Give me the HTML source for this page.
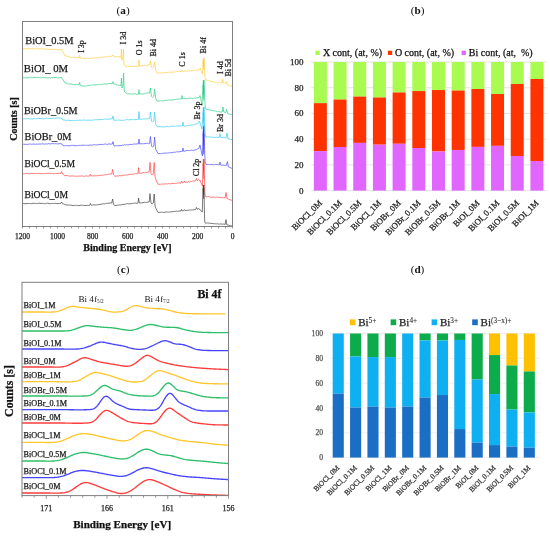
<!DOCTYPE html>
<html lang="en"><head><meta charset="utf-8"><title>XPS figure</title>
<style>html,body{margin:0;padding:0;background:#fff}svg{display:block}text{font-family:"Liberation Serif", "DejaVu Serif", serif}</style>
</head><body>
<svg width="550" height="536" viewBox="0 0 550 536">
<rect x="0" y="0" width="550" height="536" fill="#fff"/>
<text x="123.1" y="14" font-size="11.2" text-anchor="middle" fill="#111">(<tspan font-weight="bold">a</tspan>)</text>
<text x="417.7" y="14" font-size="11.2" text-anchor="middle" fill="#111">(<tspan font-weight="bold">b</tspan>)</text>
<text x="123.3" y="272.5" font-size="11.2" text-anchor="middle" fill="#111">(<tspan font-weight="bold">c</tspan>)</text>
<text x="417.5" y="272.5" font-size="11.2" text-anchor="middle" fill="#111">(<tspan font-weight="bold">d</tspan>)</text>
<g id="panel-a">
<path d="M22.5 203.6 L23.67 203.38 L24.83 203.77 L26 203.71 L27.17 203.41 L28.33 203.53 L29.5 203.49 L30.67 203.59 L31.83 203.66 L33 203.25 L34.17 203.2 L35.33 203.64 L36.5 203.4 L37.67 203.57 L38.83 203.13 L40 203.4 L41.12 203.38 L42.25 203.55 L43.38 203.29 L44.5 203.7 L45.62 203.69 L46.75 203.21 L47.88 203.22 L49 203.52 L50.12 203.76 L51.25 203.46 L52.38 203.38 L53.5 203.51 L54.62 203.3 L55.75 203.42 L56.88 203.55 L58 203.6 L59.4 203.5 L60.8 203.4 L61.6 202 L62.6 203.8 L63.73 204.05 L64.87 204.45 L66 205 L67.2 204.92 L68.4 205.14 L69.6 205.12 L70.8 205.05 L72 205.4 L73.14 205.59 L74.29 205.43 L75.43 205.48 L76.57 205.22 L77.71 205.68 L78.86 205.6 L80 205.4 L81.21 205.18 L82.42 205.28 L83.64 205.49 L84.85 205.47 L86.06 205.58 L87.28 205.28 L88.49 205.5 L89.7 205.3 L90.4 203.4 L91.2 205.2 L92.46 205.18 L93.71 204.86 L94.97 204.91 L96.23 204.96 L97.49 204.82 L98.74 204.52 L100 204.4 L101.11 204.29 L102.22 203.83 L103.33 203.79 L104.44 203.94 L105.56 203.57 L106.67 203.28 L107.78 203.34 L108.89 203.27 L110 203 L111.8 203 L112.6 199 L113.6 204.6 L115 205.6 L116.17 205.53 L117.33 205.2 L118.5 205.07 L119.67 204.94 L120.83 204.92 L122 204.6 L123.14 204.47 L124.29 204.25 L125.43 204.17 L126.57 203.77 L127.71 203.63 L128.86 203.86 L130 203.6 L131.14 203.78 L132.29 203.48 L133.43 203.28 L134.57 203.07 L135.71 203.17 L136.86 203.36 L138 203 L138.6 198 L139.3 203 L140.54 203.01 L141.79 202.74 L143.03 202.77 L144.27 202.28 L145.51 202.29 L146.76 202.4 L148 202 L149.2 202 L150 193.6 L151 203 L152 204 L153.3 203 L154.2 194 L155.2 207 L158 212.4 L159.17 212.41 L160.33 212.31 L161.5 212.17 L162.67 212.29 L163.83 212.49 L165 212.2 L166.15 211.83 L167.31 212.17 L168.46 212.1 L169.62 212.05 L170.77 211.87 L171.92 211.82 L173.08 211.56 L174.23 211.5 L175.38 211.33 L176.54 211.03 L177.69 211.39 L178.85 211.13 L180 211 L181 211 L181.6 209.4 L182.3 210.8 L183.7 210.7 L184.4 209.6 L185.1 210.6 L186.2 210.32 L187.3 210.38 L188.4 210.26 L189.5 210.08 L190.6 209.96 L191.7 209.95 L192.8 209.89 L193.9 209.77 L195 209.6 L195.7 209.5 L196.4 207.4 L197.3 209.2 L198 209.2 L198.6 208.4 L199.3 209.3 L200 209.4 L201.5 211.6 L202.3 212 L202.9 190 L203.3 185 L203.6 190 L203.9 185 L204.3 205 L204.7 221 L205.2 223.1 L206.33 223.13 L207.47 222.94 L208.6 223.1 L209.73 223.12 L210.87 223.4 L212 223.4 L213.11 223.69 L214.22 223.74 L215.33 223.83 L216.44 223.93 L217.56 223.71 L218.67 224.12 L219.78 224.12 L220.89 223.88 L222 224.2 L223.6 224.03 L225.2 224.4 L226 219.6 L226.9 225 L228.45 225.13 L230 225.8 L232 226" fill="none" stroke="#4d4d4d" stroke-width="0.75" stroke-linejoin="round" stroke-linecap="round" />
<path d="M22.5 173.6 L23.67 173.84 L24.83 173.82 L26 173.31 L27.17 173.31 L28.33 173.72 L29.5 173.65 L30.67 173.6 L31.83 173.39 L33 173.54 L34.17 173.53 L35.33 173.5 L36.5 173.25 L37.67 173.39 L38.83 173.35 L40 173.4 L41.12 173.54 L42.25 173.7 L43.38 173.69 L44.5 173.47 L45.62 173.43 L46.75 173.35 L47.88 173.23 L49 173.24 L50.12 173.49 L51.25 173.42 L52.38 173.47 L53.5 173.77 L54.62 173.58 L55.75 173.61 L56.88 173.44 L58 173.6 L59.4 173.23 L60.8 173.4 L61.6 171.6 L62.6 174 L65 175.6 L66.17 175.57 L67.33 175.53 L68.5 175.81 L69.67 176.15 L70.83 176.03 L72 176 L73.14 175.82 L74.29 176.22 L75.43 176.17 L76.57 176.13 L77.71 176.23 L78.86 176.15 L80 176 L81.21 176.16 L82.42 175.92 L83.64 176.27 L84.85 176.26 L86.06 175.81 L87.28 176.14 L88.49 176.12 L89.7 176 L90.4 174 L91.2 176 L92.46 175.89 L93.71 175.85 L94.97 175.74 L96.23 175.9 L97.49 175.57 L98.74 175.67 L100 175.4 L101.11 175.16 L102.22 175.3 L103.33 175.16 L104.44 174.76 L105.56 174.66 L106.67 174.7 L107.78 174.44 L108.89 174.15 L110 174 L111.8 174 L112.6 169.4 L113.6 175 L115 176.4 L116.17 176.08 L117.33 175.97 L118.5 176.01 L119.67 175.55 L120.83 175.8 L122 175.4 L123.14 175.13 L124.29 175.34 L125.43 174.86 L126.57 175.08 L127.71 174.8 L128.86 174.55 L130 174.4 L131.14 174.3 L132.29 174.26 L133.43 174.11 L134.57 173.84 L135.71 173.66 L136.86 173.72 L138 173.6 L138.6 167.6 L139.3 173.4 L140.54 173.44 L141.79 173.07 L143.03 172.56 L144.27 172.78 L145.51 172.53 L146.76 172.43 L148 172 L149.2 172 L150 162.4 L151 174 L152 175 L153.3 174 L154.2 162.4 L155.2 178 L158 184.4 L159.17 184.16 L160.33 184.4 L161.5 183.95 L162.67 184.22 L163.83 183.94 L165 184 L166.15 183.77 L167.31 184.06 L168.46 183.55 L169.62 183.7 L170.77 183.81 L171.92 183.4 L173.08 183.3 L174.23 183.6 L175.38 183.26 L176.54 183.35 L177.69 182.89 L178.85 183 L180 183 L181 183 L181.6 181 L182.3 182.8 L183.7 182.6 L184.4 181 L185.1 182.5 L186.2 182.15 L187.3 182.26 L188.4 181.77 L189.5 182.09 L190.6 181.4 L191.7 181.63 L192.8 181.07 L193.9 181.03 L195 181 L195.7 180.8 L196.4 178.4 L197.3 180.4 L198 180.4 L198.6 179.6 L199.3 180.4 L200 180 L201.5 184 L202.4 186 L203 164 L203.4 159 L203.7 164 L204 159 L204.5 180 L205 194 L205.5 196.6 L206.8 196.9 L208.1 196.65 L209.4 196.78 L210.7 197.19 L212 197.2 L213.14 197.18 L214.29 197.03 L215.43 197.6 L216.57 197.18 L217.71 197.15 L218.86 197.37 L220 197.5 L221.3 197.64 L222.6 197.79 L223.9 197.51 L225.2 197.8 L226 192.4 L226.9 198.4 L228.45 199.01 L230 199.8 L232 200.3" fill="none" stroke="#ff5050" stroke-width="0.75" stroke-linejoin="round" stroke-linecap="round" />
<path d="M22.5 144.4 L23.67 144.23 L24.83 144.37 L26 144.25 L27.17 144.35 L28.33 144.34 L29.5 144 L30.67 143.94 L31.83 144.38 L33 144.03 L34.17 143.98 L35.33 144.38 L36.5 144.06 L37.67 144.24 L38.83 144.01 L40 144 L41.11 144.06 L42.22 143.76 L43.33 144.01 L44.44 144.12 L45.56 143.9 L46.67 144 L47.78 143.94 L48.89 143.58 L50 143.94 L51.11 143.83 L52.22 143.64 L53.33 143.47 L54.44 143.92 L55.56 143.67 L56.67 143.79 L57.78 143.86 L58.89 143.74 L60 143.6 L62 144 L63 145.6 L64.2 145.84 L65.4 145.54 L66.6 145.77 L67.8 145.57 L69 145.84 L70.2 145.81 L71.4 145.37 L72.6 145.4 L73.8 145.44 L75 145.6 L76.15 145.81 L77.31 145.47 L78.46 145.53 L79.62 145.3 L80.77 145.37 L81.92 145.26 L83.08 145.19 L84.23 145.28 L85.38 145.23 L86.54 145.36 L87.69 145.19 L88.85 145.29 L90 145 L91.11 145.14 L92.22 145.16 L93.33 144.93 L94.44 144.59 L95.56 144.92 L96.67 144.93 L97.78 144.84 L98.89 144.59 L100 144.62 L101.11 144.28 L102.22 144.57 L103.33 144.37 L104.44 144.16 L105.56 143.98 L106.67 144.36 L107.78 144.39 L108.89 143.83 L110 144 L111.15 144.17 L112.3 144 L113 141.6 L114 146 L115.2 145.87 L116.4 145.64 L117.6 145.64 L118.8 145.83 L120 145.6 L121.11 145.68 L122.22 145.08 L123.33 145.26 L124.44 144.81 L125.56 145.06 L126.67 144.71 L127.78 144.88 L128.89 144.8 L130 144.4 L131.2 144.35 L132.4 144.56 L133.6 144.12 L134.8 143.93 L136 144.17 L137.2 143.79 L138.4 144 L139 139 L139.6 144 L140.95 143.73 L142.3 143.75 L143.65 143.76 L145 143.6 L146.15 143.36 L147.3 143.24 L148.45 143.66 L149.6 143.4 L150.4 136.4 L151.5 146 L152.5 147 L153.8 146 L154.6 137 L155.6 149 L158 153.6 L159.17 153.43 L160.33 153.72 L161.5 153.62 L162.67 153.26 L163.83 153.24 L165 153.2 L166.15 153.09 L167.31 153.03 L168.46 152.88 L169.62 152.74 L170.77 152.65 L171.92 152.71 L173.08 152.34 L174.23 152.18 L175.38 152.22 L176.54 151.82 L177.69 151.73 L178.85 151.99 L180 151.6 L181.2 151.51 L182.4 151.4 L183 148 L183.6 151.2 L184.8 151.13 L186 151 L186.6 150 L187.2 150.8 L188.3 150.43 L189.4 150.55 L190.5 150.54 L191.6 150.13 L192.7 150.36 L193.8 150.27 L194.9 149.85 L196 150 L199 148 L200 145 L201 150 L202.4 156 L203.1 132 L203.5 126 L203.8 131 L204.1 126 L204.6 150 L205.2 162 L206 164.4 L207.2 164.51 L208.4 164.46 L209.6 164.62 L210.8 164.48 L212 164.6 L213.23 164.75 L214.47 164.8 L215.7 164.43 L216.93 164.49 L218.17 164.87 L219.4 164.8 L220 162 L220.7 165 L221.84 165.34 L222.98 165.02 L224.12 165.22 L225.26 165.37 L226.4 165.4 L227.4 161.6 L228.4 167 L229.6 167.37 L230.8 167.86 L232 168.4" fill="none" stroke="#5555ff" stroke-width="0.75" stroke-linejoin="round" stroke-linecap="round" />
<path d="M22.5 119 L23.67 118.83 L24.83 118.72 L26 118.86 L27.17 118.7 L28.33 118.62 L29.5 118.78 L30.67 119.05 L31.83 118.95 L33 118.91 L34.17 118.58 L35.33 118.73 L36.5 118.55 L37.67 118.47 L38.83 118.41 L40 118.6 L41.11 118.41 L42.22 118.77 L43.33 118.68 L44.44 118.64 L45.56 118.6 L46.67 118.23 L47.78 118.26 L48.89 118.4 L50 118.43 L51.11 118.47 L52.22 118.45 L53.33 117.97 L54.44 118.23 L55.56 118.23 L56.67 118.1 L57.78 117.89 L58.89 118.02 L60 118 L62 118.3 L63 120 L64.17 119.84 L65.33 120.38 L66.5 120.4 L67.67 120.29 L68.83 120.22 L70 120.4 L71.11 120.62 L72.22 120.42 L73.33 120.58 L74.44 120.55 L75.56 120.35 L76.67 120.29 L77.78 120.38 L78.89 120.27 L80 120.11 L81.11 120.18 L82.22 120.45 L83.33 120.01 L84.44 120 L85.56 120.32 L86.67 120.11 L87.78 120.24 L88.89 120.2 L90 120.2 L91.11 120.05 L92.22 120.35 L93.33 119.83 L94.44 119.88 L95.56 119.7 L96.67 119.87 L97.78 119.61 L98.89 119.59 L100 119.74 L101.11 119.43 L102.22 119.5 L103.33 119.63 L104.44 119.11 L105.56 119.02 L106.67 119.05 L107.78 119.28 L108.89 119.13 L110 119 L111.15 118.85 L112.3 119 L113 116 L114 120.4 L115.2 120.27 L116.4 120.14 L117.6 120.26 L118.8 119.98 L120 120.2 L121.11 120.24 L122.22 120.29 L123.33 120.25 L124.44 120.06 L125.56 120.12 L126.67 119.53 L127.78 119.62 L128.89 119.93 L130 119.6 L131.2 119.73 L132.4 119.49 L133.6 119.76 L134.8 119.55 L136 119.64 L137.2 119.31 L138.4 119.4 L139 111.6 L139.6 119.4 L140.95 119.13 L142.3 119.17 L143.65 118.9 L145 119 L146.15 118.83 L147.3 119.06 L148.45 118.61 L149.6 118.6 L150.4 112 L151.5 121 L152.5 122 L153.8 121 L154.6 112.4 L155.6 124 L157.5 127 L158.75 126.69 L160 126.68 L161.25 126.71 L162.5 127.03 L163.75 126.76 L165 126.8 L166.15 126.62 L167.31 126.45 L168.46 126.89 L169.62 126.51 L170.77 126.33 L171.92 126.18 L173.08 126.12 L174.23 126.12 L175.38 126.35 L176.54 125.99 L177.69 125.87 L178.85 126.06 L180 126 L181.2 125.86 L182.4 126 L183 122 L183.6 126 L184.8 126.28 L186 126 L186.6 125.2 L187.2 125.8 L188.42 125.36 L189.65 125.37 L190.88 125.28 L192.1 124.85 L193.32 124.95 L194.55 124.44 L195.78 124.08 L197 124 L198.5 123 L199.4 121 L200.4 124 L202 129 L203 112 L203.4 107 L203.7 112 L204 107 L204.6 125 L205.2 135 L206 137 L207.2 136.99 L208.4 136.82 L209.6 137.08 L210.8 137.02 L212 137.2 L213.2 137.46 L214.4 137.47 L215.6 137.32 L216.8 137.1 L218 137.4 L219.4 137.4 L220 133.6 L220.7 137.5 L222.02 137.49 L223.35 137.61 L224.68 137.71 L226 138 L227 133 L228 139 L229.33 139.05 L230.67 139.61 L232 139.6" fill="none" stroke="#40d0f5" stroke-width="0.75" stroke-linejoin="round" stroke-linecap="round" />
<path d="M22.5 77.6 L23.64 77.67 L24.77 77.73 L25.91 77.75 L27.05 77.84 L28.18 77.68 L29.32 77.79 L30.45 77.14 L31.59 77.43 L32.73 77.75 L33.86 77.52 L35 77.4 L36.11 77.73 L37.22 77.22 L38.33 77.51 L39.44 77.4 L40.56 77.65 L41.67 77.72 L42.78 77.37 L43.89 77.56 L45 77.8 L46.11 77.62 L47.22 78.05 L48.33 77.92 L49.44 77.47 L50.56 77.9 L51.67 77.41 L52.78 77.73 L53.89 77.36 L55 77.6 L56.25 77.35 L57.5 78.06 L58.75 77.7 L60 78 L61 77 L62 78.4 L65 83 L66.25 83.05 L67.5 83.84 L68.75 84.01 L70 84 L71.25 84 L72.5 84.62 L73.75 84.48 L75 84.6 L76.33 84.79 L77.67 84.53 L79 84.8 L79.6 82.4 L80.3 85.4 L81.65 86.01 L83 86 L84.2 86.03 L85.4 86.13 L86.6 85.98 L87.8 85.46 L89 85.4 L90.2 85.17 L91.4 85.05 L92.6 84.9 L93.8 84.96 L95 85 L96.11 84.96 L97.22 84.43 L98.33 84.79 L99.44 84.44 L100.56 84.31 L101.67 84.56 L102.78 84.21 L103.89 83.98 L105 84 L106.25 83.89 L107.5 83.94 L108.75 83.39 L110 83.6 L111.2 83.83 L112.4 83.4 L113 81.6 L113.8 84 L115.2 84 L116.6 84.84 L118 85 L119.5 85.49 L121 85.5 L121.4 78 L121.9 88 L123 86 L123.6 73 L124.2 91 L126 93 L128 94 L129.16 93.68 L130.31 94.25 L131.47 93.97 L132.62 94.14 L133.78 93.77 L134.93 93.82 L136.09 93.93 L137.24 94.5 L138.4 94.2 L139 89.6 L139.6 94.2 L140.8 93.82 L142 94.04 L143.2 93.99 L144.4 93.82 L145.6 93.23 L146.8 93.07 L148 93 L149.6 93 L150.4 88 L151.5 96.5 L152.6 97.2 L153.8 96 L154.6 89 L155.6 98 L157 101 L158.14 100.96 L159.29 101.08 L160.43 100.55 L161.57 100.95 L162.71 100.92 L163.86 100.91 L165 100.6 L166.15 100.15 L167.31 100.67 L168.46 99.94 L169.62 100 L170.77 100.06 L171.92 100.15 L173.08 99.63 L174.23 99.91 L175.38 99.52 L176.54 99.24 L177.69 99.12 L178.85 98.9 L180 99 L181.5 99 L182 95.6 L182.6 98.8 L183.83 98.44 L185.07 98.42 L186.3 98.73 L187.53 98.88 L188.77 98.23 L190 98.4 L191.17 98.02 L192.33 98.61 L193.5 98.22 L194.67 98.07 L195.83 97.88 L197 98 L199 97.5 L200 95.6 L201 100 L202 105 L203 84 L203.4 80 L203.7 84 L204 80 L204.6 95 L205.2 107 L206 109 L207.2 109.37 L208.4 109.83 L209.6 109.87 L210.8 110.15 L212 110.5 L213.14 110.4 L214.29 111.22 L215.43 110.82 L216.57 111.35 L217.71 111.81 L218.86 111.53 L220 112 L222.2 112 L223 107 L223.8 112 L225.8 112.5 L226.6 109.4 L227.6 113.5 L228.7 113.89 L229.8 114.26 L230.9 114.27 L232 114.4" fill="none" stroke="#38d28c" stroke-width="0.75" stroke-linejoin="round" stroke-linecap="round" />
<path d="M22.5 48.6 L23.67 48.79 L24.83 48.82 L26 48.63 L27.17 48.51 L28.33 48.37 L29.5 48.78 L30.67 48.68 L31.83 48.86 L33 48.64 L34.17 48.9 L35.33 48.61 L36.5 48.94 L37.67 48.91 L38.83 48.74 L40 48.8 L41.15 48.87 L42.31 49 L43.46 48.75 L44.62 49.02 L45.77 49.21 L46.92 48.94 L48.08 49.31 L49.23 49.28 L50.38 49.42 L51.54 49.16 L52.69 49.06 L53.85 49.53 L55 49.4 L56.25 49.73 L57.5 49.67 L58.75 49.61 L60 50 L61 49 L62 50 L65 56 L66.25 56.07 L67.5 56.58 L68.75 56.62 L70 57 L71.25 57.4 L72.5 57.3 L73.75 57.2 L75 57.5 L76.33 57.69 L77.67 57.62 L79 57.8 L79.6 55 L80.3 58 L81.47 58.36 L82.65 58.45 L83.83 58.31 L85 58.4 L86.11 58.44 L87.22 58.43 L88.33 58.45 L89.44 58.51 L90.56 57.89 L91.67 58.05 L92.78 58.15 L93.89 57.93 L95 58 L96.11 57.94 L97.22 57.53 L98.33 57.89 L99.44 57.57 L100.56 57.21 L101.67 57.43 L102.78 57.11 L103.89 56.93 L105 57 L106.17 56.82 L107.33 56.45 L108.5 56.33 L109.67 56.55 L110.83 56.29 L112 56 L113 55 L114 56.5 L115.2 56.31 L116.4 56.87 L117.6 56.51 L118.8 56.8 L120 57 L121 57.5 L121.4 49 L121.9 60 L122.9 58 L123.4 49 L124 64 L125 66 L126.25 66.39 L127.5 66.37 L128.75 66.33 L130 66.6 L131.21 66.48 L132.43 66.45 L133.64 66.25 L134.86 66.73 L136.07 66.12 L137.29 66.3 L138.5 66.3 L139 60 L139.6 66 L140.8 66 L142 65.65 L143.2 65.86 L144.4 65.28 L145.6 65.57 L146.8 65.38 L148 65 L149.6 65 L150.4 60.8 L151.5 67.4 L152.6 68 L153.8 67 L154.6 62 L155.6 70 L157 73 L158.14 73.04 L159.29 73.12 L160.43 72.8 L161.57 72.97 L162.71 72.89 L163.86 72.67 L165 72.6 L166.15 72.51 L167.31 72.57 L168.46 72.31 L169.62 72.04 L170.77 72.36 L171.92 72 L173.08 72.05 L174.23 72.16 L175.38 71.71 L176.54 71.54 L177.69 71.53 L178.85 71.73 L180 71.6 L181.5 71.5 L182 70 L182.6 71.4 L183.83 71.22 L185.07 71.05 L186.3 71.07 L187.53 71.26 L188.77 70.75 L190 70.8 L191.12 70.65 L192.25 70.83 L193.38 70.57 L194.5 70.26 L195.62 70.28 L196.75 70.19 L197.88 69.89 L199 70 L200.4 68 L201.5 72 L202.4 74 L203.1 60 L203.4 58 L203.7 60 L204 58 L204.4 66 L205 78 L206 80 L207.2 80.23 L208.4 80.48 L209.6 81.08 L210.8 81.09 L212 81.5 L213.14 81.81 L214.29 82.21 L215.43 82.4 L216.57 82.28 L217.71 82.63 L218.86 82.68 L220 83 L222 83 L222.6 79 L223.4 83 L224.6 83.19 L225.8 83.5 L226.6 81.6 L227.6 85 L228.7 85.24 L229.8 85.68 L230.9 86.01 L232 86" fill="none" stroke="#ffd04a" stroke-width="0.75" stroke-linejoin="round" stroke-linecap="round" />
<path d="M203.45 184.7 L204.3 189.25 L204.15 199 L203.45 199 L202.8 189.25 Z" fill="#3a3a3a"/>
<path d="M203.45 158.7 L204.3 165.05 L204.15 179 L203.45 179 L202.8 165.05 Z" fill="#ff3636"/>
<path d="M203.45 125.7 L204.3 134.6 L204.15 154.5 L203.45 154.5 L202.8 134.6 Z" fill="#3030ff"/>
<path d="M203.45 106.7 L204.3 112.9 L204.15 126.5 L203.45 126.5 L202.8 112.9 Z" fill="#28c8fa"/>
<path d="M203.45 80.2 L204.3 86.55 L204.15 100.5 L203.45 100.5 L202.8 86.55 Z" fill="#22c87c"/>
<path d="M203.45 58.2 L204.3 61.85 L204.15 69.5 L203.45 69.5 L202.8 61.85 Z" fill="#ffc824"/>
<rect x="22.5" y="21.5" width="210.0" height="205.0" fill="none" stroke="#7f7f7f" stroke-width="1"/>
<path d="M232.5 226.5 v1.9 M225.5 226.5 v1.9 M218.5 226.5 v1.9 M211.5 226.5 v1.9 M204.5 226.5 v1.9 M197.5 226.5 v1.9 M190.5 226.5 v1.9 M183.5 226.5 v1.9 M176.5 226.5 v1.9 M169.5 226.5 v1.9 M162.5 226.5 v1.9 M155.5 226.5 v1.9 M148.5 226.5 v1.9 M141.5 226.5 v1.9 M134.5 226.5 v1.9 M127.5 226.5 v1.9 M120.5 226.5 v1.9 M113.5 226.5 v1.9 M106.5 226.5 v1.9 M99.5 226.5 v1.9 M92.5 226.5 v1.9 M85.5 226.5 v1.9 M78.5 226.5 v1.9 M71.5 226.5 v1.9 M64.5 226.5 v1.9 M57.5 226.5 v1.9 M50.5 226.5 v1.9 M43.5 226.5 v1.9 M36.5 226.5 v1.9 M29.5 226.5 v1.9 M22.5 226.5 v1.9 " stroke="#7f7f7f" stroke-width="0.8" fill="none"/>
<text x="232.5" y="238.5" font-size="7.5" text-anchor="middle" font-weight="normal" fill="#222" stroke="#222" stroke-width="0.25" >0</text>
<text x="197.5" y="238.5" font-size="7.5" text-anchor="middle" font-weight="normal" fill="#222" stroke="#222" stroke-width="0.25" >200</text>
<text x="162.5" y="238.5" font-size="7.5" text-anchor="middle" font-weight="normal" fill="#222" stroke="#222" stroke-width="0.25" >400</text>
<text x="127.5" y="238.5" font-size="7.5" text-anchor="middle" font-weight="normal" fill="#222" stroke="#222" stroke-width="0.25" >600</text>
<text x="92.5" y="238.5" font-size="7.5" text-anchor="middle" font-weight="normal" fill="#222" stroke="#222" stroke-width="0.25" >800</text>
<text x="57.5" y="238.5" font-size="7.5" text-anchor="middle" font-weight="normal" fill="#222" stroke="#222" stroke-width="0.25" >1000</text>
<text x="22.5" y="238.5" font-size="7.5" text-anchor="middle" font-weight="normal" fill="#222" stroke="#222" stroke-width="0.25" >1200</text>
<text x="127.5" y="251.4" font-size="10" text-anchor="middle" font-weight="bold" fill="#111" stroke="#111" stroke-width="0.25" >Binding Energy [eV]</text>
<text x="0" y="0" font-size="10" text-anchor="middle" font-weight="bold" fill="#111" stroke="#111" stroke-width="0.25" transform="translate(17.2 119) rotate(-90)" >Counts [s]</text>
<text x="25.2" y="43.6" font-size="10.45" text-anchor="start" font-weight="normal" fill="#1a1a1a" stroke="#1a1a1a" stroke-width="0.25" >BiOI_0.5M</text>
<text x="23.8" y="71.7" font-size="10.7" text-anchor="start" font-weight="normal" fill="#1a1a1a" stroke="#1a1a1a" stroke-width="0.25" >BiOI_ 0M</text>
<text x="23.9" y="113.6" font-size="10.15" text-anchor="start" font-weight="normal" fill="#1a1a1a" stroke="#1a1a1a" stroke-width="0.25" >BiOBr_0.5M</text>
<text x="24.6" y="139.6" font-size="10.3" text-anchor="start" font-weight="normal" fill="#1a1a1a" stroke="#1a1a1a" stroke-width="0.25" >BiOBr_0M</text>
<text x="24.5" y="167.4" font-size="9.62" text-anchor="start" font-weight="normal" fill="#1a1a1a" stroke="#1a1a1a" stroke-width="0.25" >BiOCl_0.5M</text>
<text x="24.5" y="197.5" font-size="9.67" text-anchor="start" font-weight="normal" fill="#1a1a1a" stroke="#1a1a1a" stroke-width="0.25" >BiOCl_0M</text>
<text x="0" y="0" font-size="8" text-anchor="start" font-weight="normal" fill="#1a1a1a" stroke="#1a1a1a" stroke-width="0.25" transform="translate(84.2 52.8) rotate(-90)" >I 3p</text>
<text x="0" y="0" font-size="8" text-anchor="start" font-weight="normal" fill="#1a1a1a" stroke="#1a1a1a" stroke-width="0.25" transform="translate(126 44.4) rotate(-90)" >I 3d</text>
<text x="0" y="0" font-size="8" text-anchor="start" font-weight="normal" fill="#1a1a1a" stroke="#1a1a1a" stroke-width="0.25" transform="translate(142.1 55.3) rotate(-90)" >O 1s</text>
<text x="0" y="0" font-size="8" text-anchor="start" font-weight="normal" fill="#1a1a1a" stroke="#1a1a1a" stroke-width="0.25" transform="translate(155.8 56.5) rotate(-90)" >Bi 4d</text>
<text x="0" y="0" font-size="8" text-anchor="start" font-weight="normal" fill="#1a1a1a" stroke="#1a1a1a" stroke-width="0.25" transform="translate(184.5 66.7) rotate(-90)" >C 1s</text>
<text x="0" y="0" font-size="8" text-anchor="start" font-weight="normal" fill="#1a1a1a" stroke="#1a1a1a" stroke-width="0.25" transform="translate(206 53.4) rotate(-90)" >Bi 4f</text>
<text x="0" y="0" font-size="8" text-anchor="start" font-weight="normal" fill="#1a1a1a" stroke="#1a1a1a" stroke-width="0.25" transform="translate(222.8 74) rotate(-90)" >I 4d</text>
<text x="0" y="0" font-size="8" text-anchor="start" font-weight="normal" fill="#1a1a1a" stroke="#1a1a1a" stroke-width="0.25" transform="translate(230.6 76.6) rotate(-90)" >Bi 5d</text>
<text x="0" y="0" font-size="8" text-anchor="start" font-weight="normal" fill="#1a1a1a" stroke="#1a1a1a" stroke-width="0.25" transform="translate(199.6 119.6) rotate(-90)" >Br 3p</text>
<text x="0" y="0" font-size="8" text-anchor="start" font-weight="normal" fill="#1a1a1a" stroke="#1a1a1a" stroke-width="0.25" transform="translate(222.7 132) rotate(-90)" >Br 3d</text>
<text x="0" y="0" font-size="8" text-anchor="start" font-weight="normal" fill="#1a1a1a" stroke="#1a1a1a" stroke-width="0.25" transform="translate(198.9 176.2) rotate(-90)" >Cl 2p</text>
</g>
<g id="panel-c">
<path d="M22.5 312 L23.5 312 L24.5 312 L25.5 312 L26.5 312 L27.5 312.01 L28.5 312.01 L29.5 312.01 L30.5 312.01 L31.5 312.01 L32.5 312.01 L33.5 312.01 L34.5 312.01 L35.5 312.01 L36.5 312.01 L37.5 312.01 L38.5 312.01 L39.5 312.01 L40.5 312.01 L41.5 312.01 L42.5 312.02 L43.5 312.03 L44.5 312.05 L45.5 312.06 L46.5 312.08 L47.5 312.09 L48.5 312.1 L49.5 312.1 L50.5 312.09 L51.5 312.07 L52.5 312.03 L53.5 311.98 L54.5 311.9 L55.5 311.8 L56.5 311.64 L57.5 311.43 L58.5 311.15 L59.5 310.82 L60.5 310.46 L61.5 310.08 L62.5 309.68 L63.5 309.28 L64.5 308.86 L65.5 308.43 L66.5 308 L67.5 307.58 L68.5 307.2 L69.5 306.87 L70.5 306.63 L71.5 306.47 L72.5 306.41 L73.5 306.43 L74.5 306.51 L75.5 306.64 L76.5 306.78 L77.5 306.92 L78.5 307.05 L79.5 307.18 L80.5 307.3 L81.5 307.43 L82.5 307.56 L83.5 307.69 L84.5 307.81 L85.5 307.93 L86.5 308.04 L87.5 308.15 L88.5 308.24 L89.5 308.34 L90.5 308.42 L91.5 308.51 L92.5 308.6 L93.5 308.69 L94.5 308.78 L95.5 308.88 L96.5 308.98 L97.5 309.09 L98.5 309.22 L99.5 309.36 L100.5 309.52 L101.5 309.71 L102.5 309.92 L103.5 310.15 L104.5 310.39 L105.5 310.64 L106.5 310.88 L107.5 311.11 L108.5 311.34 L109.5 311.55 L110.5 311.73 L111.5 311.88 L112.5 311.99 L113.5 312.06 L114.5 312.09 L115.5 312.09 L116.5 312.06 L117.5 312.01 L118.5 311.94 L119.5 311.85 L120.5 311.72 L121.5 311.56 L122.5 311.34 L123.5 311.03 L124.5 310.63 L125.5 310.13 L126.5 309.55 L127.5 308.94 L128.5 308.34 L129.5 307.77 L130.5 307.23 L131.5 306.73 L132.5 306.28 L133.5 305.92 L134.5 305.67 L135.5 305.55 L136.5 305.56 L137.5 305.68 L138.5 305.87 L139.5 306.11 L140.5 306.37 L141.5 306.63 L142.5 306.89 L143.5 307.16 L144.5 307.42 L145.5 307.65 L146.5 307.86 L147.5 308.02 L148.5 308.14 L149.5 308.24 L150.5 308.31 L151.5 308.37 L152.5 308.42 L153.5 308.47 L154.5 308.52 L155.5 308.57 L156.5 308.63 L157.5 308.68 L158.5 308.72 L159.5 308.77 L160.5 308.82 L161.5 308.88 L162.5 308.96 L163.5 309.05 L164.5 309.18 L165.5 309.35 L166.5 309.56 L167.5 309.8 L168.5 310.07 L169.5 310.36 L170.5 310.65 L171.5 310.94 L172.5 311.22 L173.5 311.5 L174.5 311.77 L175.5 312.02 L176.5 312.25 L177.5 312.46 L178.5 312.63 L179.5 312.79 L180.5 312.92 L181.5 313.03 L182.5 313.14 L183.5 313.24 L184.5 313.32 L185.5 313.4 L186.5 313.47 L187.5 313.52 L188.5 313.57 L189.5 313.61 L190.5 313.64 L191.5 313.67 L192.5 313.7 L193.5 313.72 L194.5 313.74 L195.5 313.75 L196.5 313.77 L197.5 313.78 L198.5 313.79 L199.5 313.8 L200.5 313.8 L201.5 313.81 L202.5 313.81 L203.5 313.81 L204.5 313.82 L205.5 313.82 L206.5 313.82 L207.5 313.82 L208.5 313.82 L209.5 313.82 L210.5 313.82 L211.5 313.82 L212.5 313.82 L213.5 313.82 L214.5 313.81 L215.5 313.81 L216.5 313.81 L217.5 313.81 L218.5 313.81 L219.5 313.81 L220.5 313.8 L221.5 313.8 L222.5 313.8 L223.5 313.8 L224.5 313.8 L225 313.8" fill="none" stroke="#ffc62e" stroke-width="1.35" stroke-linejoin="round" stroke-linecap="round" />
<path d="M22.5 331 L23.5 331 L24.5 331 L25.5 331 L26.5 331 L27.5 331.01 L28.5 331.01 L29.5 331.01 L30.5 331.01 L31.5 331.02 L32.5 331.02 L33.5 331.02 L34.5 331.02 L35.5 331.03 L36.5 331.03 L37.5 331.03 L38.5 331.03 L39.5 331.03 L40.5 331.03 L41.5 331.03 L42.5 331.03 L43.5 331.03 L44.5 331.03 L45.5 331.03 L46.5 331.02 L47.5 331.02 L48.5 331.01 L49.5 331.01 L50.5 331 L51.5 331 L52.5 331 L53.5 331 L54.5 331.01 L55.5 331.02 L56.5 331.03 L57.5 331.03 L58.5 331.04 L59.5 331.04 L60.5 331.04 L61.5 331.03 L62.5 331.02 L63.5 330.99 L64.5 330.96 L65.5 330.92 L66.5 330.87 L67.5 330.8 L68.5 330.72 L69.5 330.6 L70.5 330.45 L71.5 330.24 L72.5 329.97 L73.5 329.65 L74.5 329.29 L75.5 328.92 L76.5 328.55 L77.5 328.19 L78.5 327.84 L79.5 327.49 L80.5 327.14 L81.5 326.8 L82.5 326.48 L83.5 326.19 L84.5 325.95 L85.5 325.77 L86.5 325.66 L87.5 325.63 L88.5 325.66 L89.5 325.75 L90.5 325.86 L91.5 326 L92.5 326.13 L93.5 326.25 L94.5 326.37 L95.5 326.49 L96.5 326.61 L97.5 326.73 L98.5 326.84 L99.5 326.94 L100.5 327.03 L101.5 327.11 L102.5 327.18 L103.5 327.25 L104.5 327.31 L105.5 327.37 L106.5 327.43 L107.5 327.49 L108.5 327.55 L109.5 327.62 L110.5 327.69 L111.5 327.77 L112.5 327.87 L113.5 327.97 L114.5 328.09 L115.5 328.23 L116.5 328.39 L117.5 328.57 L118.5 328.75 L119.5 328.94 L120.5 329.13 L121.5 329.3 L122.5 329.46 L123.5 329.61 L124.5 329.76 L125.5 329.89 L126.5 330.02 L127.5 330.14 L128.5 330.24 L129.5 330.3 L130.5 330.31 L131.5 330.24 L132.5 330.11 L133.5 329.92 L134.5 329.69 L135.5 329.42 L136.5 329.11 L137.5 328.76 L138.5 328.37 L139.5 327.94 L140.5 327.5 L141.5 327.06 L142.5 326.63 L143.5 326.23 L144.5 325.86 L145.5 325.53 L146.5 325.22 L147.5 324.96 L148.5 324.74 L149.5 324.59 L150.5 324.52 L151.5 324.54 L152.5 324.63 L153.5 324.8 L154.5 325.01 L155.5 325.24 L156.5 325.48 L157.5 325.72 L158.5 325.97 L159.5 326.22 L160.5 326.46 L161.5 326.68 L162.5 326.86 L163.5 327 L164.5 327.1 L165.5 327.17 L166.5 327.21 L167.5 327.24 L168.5 327.26 L169.5 327.29 L170.5 327.31 L171.5 327.33 L172.5 327.35 L173.5 327.37 L174.5 327.41 L175.5 327.49 L176.5 327.6 L177.5 327.76 L178.5 327.97 L179.5 328.21 L180.5 328.49 L181.5 328.78 L182.5 329.07 L183.5 329.34 L184.5 329.6 L185.5 329.84 L186.5 330.07 L187.5 330.29 L188.5 330.5 L189.5 330.71 L190.5 330.9 L191.5 331.08 L192.5 331.25 L193.5 331.41 L194.5 331.55 L195.5 331.69 L196.5 331.82 L197.5 331.93 L198.5 332.03 L199.5 332.11 L200.5 332.18 L201.5 332.24 L202.5 332.3 L203.5 332.34 L204.5 332.38 L205.5 332.41 L206.5 332.44 L207.5 332.47 L208.5 332.5 L209.5 332.52 L210.5 332.54 L211.5 332.56 L212.5 332.57 L213.5 332.58 L214.5 332.59 L215.5 332.6 L216.5 332.61 L217.5 332.61 L218.5 332.61 L219.5 332.62 L220.5 332.61 L221.5 332.61 L222.5 332.61 L223.5 332.61 L224.5 332.61 L225.5 332.6 L226.5 332.6 L227.5 332.6 L228 332.6" fill="none" stroke="#2ebf6a" stroke-width="1.35" stroke-linejoin="round" stroke-linecap="round" />
<path d="M22.5 349 L23.5 349 L24.5 349 L25.5 349 L26.5 349 L27.5 349 L28.5 349 L29.5 349 L30.5 349 L31.5 349.01 L32.5 349.01 L33.5 349.01 L34.5 349.01 L35.5 349.01 L36.5 349.01 L37.5 349.01 L38.5 349.01 L39.5 349.01 L40.5 349.02 L41.5 349.02 L42.5 349.02 L43.5 349.02 L44.5 349.02 L45.5 349.02 L46.5 349.02 L47.5 349.02 L48.5 349.02 L49.5 349.02 L50.5 349.02 L51.5 349.02 L52.5 349.02 L53.5 349.02 L54.5 349.01 L55.5 349.01 L56.5 349.01 L57.5 349.01 L58.5 349.01 L59.5 349 L60.5 349 L61.5 349.01 L62.5 349.02 L63.5 349.03 L64.5 349.05 L65.5 349.06 L66.5 349.08 L67.5 349.1 L68.5 349.12 L69.5 349.13 L70.5 349.14 L71.5 349.14 L72.5 349.14 L73.5 349.13 L74.5 349.11 L75.5 349.08 L76.5 349.04 L77.5 348.98 L78.5 348.91 L79.5 348.81 L80.5 348.69 L81.5 348.53 L82.5 348.33 L83.5 348.09 L84.5 347.82 L85.5 347.52 L86.5 347.19 L87.5 346.86 L88.5 346.51 L89.5 346.15 L90.5 345.78 L91.5 345.38 L92.5 344.95 L93.5 344.5 L94.5 344.04 L95.5 343.59 L96.5 343.17 L97.5 342.79 L98.5 342.47 L99.5 342.23 L100.5 342.09 L101.5 342.05 L102.5 342.12 L103.5 342.26 L104.5 342.45 L105.5 342.66 L106.5 342.88 L107.5 343.08 L108.5 343.28 L109.5 343.48 L110.5 343.69 L111.5 343.89 L112.5 344.09 L113.5 344.29 L114.5 344.48 L115.5 344.66 L116.5 344.84 L117.5 345 L118.5 345.17 L119.5 345.34 L120.5 345.52 L121.5 345.71 L122.5 345.91 L123.5 346.13 L124.5 346.37 L125.5 346.65 L126.5 346.95 L127.5 347.26 L128.5 347.56 L129.5 347.83 L130.5 348.08 L131.5 348.31 L132.5 348.52 L133.5 348.72 L134.5 348.9 L135.5 349.05 L136.5 349.18 L137.5 349.28 L138.5 349.33 L139.5 349.35 L140.5 349.32 L141.5 349.25 L142.5 349.15 L143.5 349 L144.5 348.81 L145.5 348.57 L146.5 348.29 L147.5 347.96 L148.5 347.59 L149.5 347.17 L150.5 346.71 L151.5 346.23 L152.5 345.73 L153.5 345.23 L154.5 344.73 L155.5 344.24 L156.5 343.75 L157.5 343.26 L158.5 342.76 L159.5 342.28 L160.5 341.82 L161.5 341.41 L162.5 341.08 L163.5 340.86 L164.5 340.76 L165.5 340.79 L166.5 340.94 L167.5 341.19 L168.5 341.5 L169.5 341.85 L170.5 342.23 L171.5 342.63 L172.5 343.03 L173.5 343.41 L174.5 343.72 L175.5 343.95 L176.5 344.08 L177.5 344.15 L178.5 344.18 L179.5 344.22 L180.5 344.29 L181.5 344.4 L182.5 344.55 L183.5 344.75 L184.5 345.01 L185.5 345.32 L186.5 345.66 L187.5 346.03 L188.5 346.42 L189.5 346.81 L190.5 347.22 L191.5 347.62 L192.5 348.03 L193.5 348.42 L194.5 348.77 L195.5 349.08 L196.5 349.34 L197.5 349.56 L198.5 349.74 L199.5 349.9 L200.5 350.04 L201.5 350.15 L202.5 350.24 L203.5 350.31 L204.5 350.37 L205.5 350.41 L206.5 350.45 L207.5 350.48 L208.5 350.5 L209.5 350.53 L210.5 350.54 L211.5 350.56 L212.5 350.57 L213.5 350.58 L214.5 350.59 L215.5 350.6 L216.5 350.61 L217.5 350.61 L218.5 350.61 L219.5 350.62 L220.5 350.61 L221.5 350.61 L222.5 350.61 L223.5 350.61 L224.5 350.61 L225.5 350.6 L226.5 350.6 L227.5 350.6 L228 350.6" fill="none" stroke="#4646ff" stroke-width="1.35" stroke-linejoin="round" stroke-linecap="round" />
<path d="M22.5 367 L23.5 367 L24.5 367 L25.5 367 L26.5 367.01 L27.5 367.01 L28.5 367.01 L29.5 367.01 L30.5 367.02 L31.5 367.02 L32.5 367.02 L33.5 367.03 L34.5 367.03 L35.5 367.03 L36.5 367.03 L37.5 367.04 L38.5 367.04 L39.5 367.04 L40.5 367.04 L41.5 367.04 L42.5 367.04 L43.5 367.04 L44.5 367.03 L45.5 367.03 L46.5 367.02 L47.5 367.02 L48.5 367.01 L49.5 367.01 L50.5 367.01 L51.5 367.01 L52.5 367.03 L53.5 367.04 L54.5 367.06 L55.5 367.08 L56.5 367.09 L57.5 367.09 L58.5 367.08 L59.5 367.05 L60.5 366.99 L61.5 366.9 L62.5 366.79 L63.5 366.63 L64.5 366.42 L65.5 366.16 L66.5 365.84 L67.5 365.47 L68.5 365.06 L69.5 364.62 L70.5 364.16 L71.5 363.68 L72.5 363.21 L73.5 362.72 L74.5 362.22 L75.5 361.7 L76.5 361.15 L77.5 360.58 L78.5 360.01 L79.5 359.45 L80.5 358.94 L81.5 358.49 L82.5 358.12 L83.5 357.87 L84.5 357.74 L85.5 357.74 L86.5 357.86 L87.5 358.09 L88.5 358.39 L89.5 358.73 L90.5 359.08 L91.5 359.41 L92.5 359.74 L93.5 360.06 L94.5 360.37 L95.5 360.69 L96.5 361 L97.5 361.31 L98.5 361.59 L99.5 361.85 L100.5 362.08 L101.5 362.3 L102.5 362.49 L103.5 362.68 L104.5 362.86 L105.5 363.03 L106.5 363.19 L107.5 363.36 L108.5 363.51 L109.5 363.67 L110.5 363.83 L111.5 363.99 L112.5 364.15 L113.5 364.32 L114.5 364.49 L115.5 364.67 L116.5 364.85 L117.5 365.03 L118.5 365.21 L119.5 365.39 L120.5 365.56 L121.5 365.72 L122.5 365.87 L123.5 366.01 L124.5 366.14 L125.5 366.24 L126.5 366.29 L127.5 366.28 L128.5 366.17 L129.5 365.95 L130.5 365.64 L131.5 365.27 L132.5 364.84 L133.5 364.35 L134.5 363.78 L135.5 363.14 L136.5 362.41 L137.5 361.63 L138.5 360.82 L139.5 360 L140.5 359.2 L141.5 358.41 L142.5 357.64 L143.5 356.91 L144.5 356.26 L145.5 355.74 L146.5 355.42 L147.5 355.32 L148.5 355.45 L149.5 355.77 L150.5 356.22 L151.5 356.75 L152.5 357.31 L153.5 357.89 L154.5 358.47 L155.5 359.06 L156.5 359.64 L157.5 360.19 L158.5 360.68 L159.5 361.11 L160.5 361.48 L161.5 361.81 L162.5 362.09 L163.5 362.35 L164.5 362.6 L165.5 362.84 L166.5 363.08 L167.5 363.33 L168.5 363.57 L169.5 363.81 L170.5 364.04 L171.5 364.27 L172.5 364.49 L173.5 364.69 L174.5 364.89 L175.5 365.08 L176.5 365.25 L177.5 365.42 L178.5 365.58 L179.5 365.74 L180.5 365.88 L181.5 366.03 L182.5 366.16 L183.5 366.3 L184.5 366.43 L185.5 366.56 L186.5 366.68 L187.5 366.8 L188.5 366.92 L189.5 367.03 L190.5 367.14 L191.5 367.25 L192.5 367.35 L193.5 367.45 L194.5 367.55 L195.5 367.64 L196.5 367.73 L197.5 367.82 L198.5 367.91 L199.5 367.99 L200.5 368.07 L201.5 368.14 L202.5 368.22 L203.5 368.29 L204.5 368.36 L205.5 368.43 L206.5 368.5 L207.5 368.57 L208.5 368.63 L209.5 368.69 L210.5 368.75 L211.5 368.81 L212.5 368.86 L213.5 368.92 L214.5 368.97 L215.5 369.02 L216.5 369.07 L217.5 369.12 L218.5 369.17 L219.5 369.22 L220.5 369.26 L221.5 369.31 L222.5 369.35 L223.5 369.4 L224.5 369.44 L225.5 369.49 L226.5 369.53 L227.5 369.56 L228 369.57" fill="none" stroke="#ff3c3c" stroke-width="1.35" stroke-linejoin="round" stroke-linecap="round" />
<path d="M22.5 381.6 L23.5 381.6 L24.5 381.6 L25.5 381.6 L26.5 381.6 L27.5 381.6 L28.5 381.6 L29.5 381.61 L30.5 381.61 L31.5 381.61 L32.5 381.61 L33.5 381.61 L34.5 381.61 L35.5 381.61 L36.5 381.61 L37.5 381.61 L38.5 381.61 L39.5 381.61 L40.5 381.61 L41.5 381.61 L42.5 381.61 L43.5 381.61 L44.5 381.61 L45.5 381.61 L46.5 381.61 L47.5 381.61 L48.5 381.61 L49.5 381.6 L50.5 381.61 L51.5 381.61 L52.5 381.62 L53.5 381.64 L54.5 381.66 L55.5 381.69 L56.5 381.72 L57.5 381.75 L58.5 381.78 L59.5 381.81 L60.5 381.84 L61.5 381.87 L62.5 381.9 L63.5 381.92 L64.5 381.93 L65.5 381.94 L66.5 381.94 L67.5 381.94 L68.5 381.92 L69.5 381.89 L70.5 381.85 L71.5 381.8 L72.5 381.73 L73.5 381.65 L74.5 381.54 L75.5 381.4 L76.5 381.19 L77.5 380.91 L78.5 380.54 L79.5 380.08 L80.5 379.56 L81.5 379 L82.5 378.43 L83.5 377.85 L84.5 377.28 L85.5 376.72 L86.5 376.16 L87.5 375.58 L88.5 375 L89.5 374.43 L90.5 373.89 L91.5 373.41 L92.5 373 L93.5 372.69 L94.5 372.5 L95.5 372.43 L96.5 372.48 L97.5 372.62 L98.5 372.81 L99.5 373.04 L100.5 373.27 L101.5 373.49 L102.5 373.7 L103.5 373.91 L104.5 374.14 L105.5 374.37 L106.5 374.62 L107.5 374.89 L108.5 375.17 L109.5 375.48 L110.5 375.8 L111.5 376.14 L112.5 376.48 L113.5 376.83 L114.5 377.17 L115.5 377.51 L116.5 377.85 L117.5 378.18 L118.5 378.51 L119.5 378.84 L120.5 379.16 L121.5 379.48 L122.5 379.8 L123.5 380.12 L124.5 380.43 L125.5 380.72 L126.5 381 L127.5 381.24 L128.5 381.46 L129.5 381.64 L130.5 381.78 L131.5 381.9 L132.5 381.98 L133.5 382.02 L134.5 382.04 L135.5 382.04 L136.5 382 L137.5 381.95 L138.5 381.87 L139.5 381.76 L140.5 381.6 L141.5 381.38 L142.5 381.08 L143.5 380.67 L144.5 380.15 L145.5 379.5 L146.5 378.76 L147.5 377.94 L148.5 377.09 L149.5 376.25 L150.5 375.44 L151.5 374.66 L152.5 373.92 L153.5 373.2 L154.5 372.52 L155.5 371.89 L156.5 371.35 L157.5 370.93 L158.5 370.66 L159.5 370.56 L160.5 370.62 L161.5 370.82 L162.5 371.11 L163.5 371.45 L164.5 371.8 L165.5 372.14 L166.5 372.48 L167.5 372.81 L168.5 373.15 L169.5 373.49 L170.5 373.82 L171.5 374.15 L172.5 374.47 L173.5 374.79 L174.5 375.11 L175.5 375.46 L176.5 375.82 L177.5 376.2 L178.5 376.6 L179.5 377 L180.5 377.39 L181.5 377.77 L182.5 378.13 L183.5 378.49 L184.5 378.84 L185.5 379.18 L186.5 379.51 L187.5 379.83 L188.5 380.15 L189.5 380.46 L190.5 380.77 L191.5 381.06 L192.5 381.34 L193.5 381.61 L194.5 381.86 L195.5 382.09 L196.5 382.3 L197.5 382.5 L198.5 382.68 L199.5 382.84 L200.5 382.99 L201.5 383.12 L202.5 383.23 L203.5 383.32 L204.5 383.39 L205.5 383.45 L206.5 383.5 L207.5 383.54 L208.5 383.58 L209.5 383.62 L210.5 383.65 L211.5 383.68 L212.5 383.7 L213.5 383.73 L214.5 383.75 L215.5 383.76 L216.5 383.78 L217.5 383.79 L218.5 383.8 L219.5 383.81 L220.5 383.81 L221.5 383.81 L222.5 383.81 L223.5 383.81 L224.5 383.81 L225.5 383.81 L226.5 383.8 L227.5 383.8 L228 383.8" fill="none" stroke="#ffc62e" stroke-width="1.35" stroke-linejoin="round" stroke-linecap="round" />
<path d="M22.5 396 L23.5 396 L24.5 396 L25.5 396 L26.5 396 L27.5 396 L28.5 396 L29.5 396 L30.5 396 L31.5 396.01 L32.5 396.01 L33.5 396.01 L34.5 396.01 L35.5 396.01 L36.5 396.01 L37.5 396.01 L38.5 396.01 L39.5 396.01 L40.5 396.01 L41.5 396.01 L42.5 396.02 L43.5 396.02 L44.5 396.02 L45.5 396.02 L46.5 396.02 L47.5 396.02 L48.5 396.02 L49.5 396.02 L50.5 396.02 L51.5 396.02 L52.5 396.01 L53.5 396.01 L54.5 396.01 L55.5 396.01 L56.5 396.01 L57.5 396.01 L58.5 396 L59.5 396 L60.5 396 L61.5 396 L62.5 396 L63.5 396.01 L64.5 396.02 L65.5 396.02 L66.5 396.03 L67.5 396.04 L68.5 396.05 L69.5 396.06 L70.5 396.07 L71.5 396.08 L72.5 396.09 L73.5 396.1 L74.5 396.1 L75.5 396.1 L76.5 396.1 L77.5 396.1 L78.5 396.09 L79.5 396.08 L80.5 396.07 L81.5 396.05 L82.5 396.03 L83.5 396 L84.5 395.96 L85.5 395.92 L86.5 395.86 L87.5 395.78 L88.5 395.64 L89.5 395.42 L90.5 395.11 L91.5 394.69 L92.5 394.14 L93.5 393.47 L94.5 392.69 L95.5 391.82 L96.5 390.9 L97.5 389.99 L98.5 389.09 L99.5 388.21 L100.5 387.37 L101.5 386.61 L102.5 385.98 L103.5 385.54 L104.5 385.37 L105.5 385.47 L106.5 385.79 L107.5 386.28 L108.5 386.84 L109.5 387.45 L110.5 388.04 L111.5 388.58 L112.5 389.03 L113.5 389.38 L114.5 389.66 L115.5 389.9 L116.5 390.13 L117.5 390.36 L118.5 390.62 L119.5 390.91 L120.5 391.23 L121.5 391.6 L122.5 391.99 L123.5 392.39 L124.5 392.79 L125.5 393.18 L126.5 393.55 L127.5 393.9 L128.5 394.2 L129.5 394.45 L130.5 394.67 L131.5 394.86 L132.5 395.02 L133.5 395.17 L134.5 395.3 L135.5 395.43 L136.5 395.53 L137.5 395.63 L138.5 395.71 L139.5 395.78 L140.5 395.84 L141.5 395.89 L142.5 395.92 L143.5 395.96 L144.5 395.99 L145.5 396.03 L146.5 396.08 L147.5 396.13 L148.5 396.17 L149.5 396.19 L150.5 396.18 L151.5 396.11 L152.5 395.98 L153.5 395.76 L154.5 395.45 L155.5 395.01 L156.5 394.42 L157.5 393.66 L158.5 392.71 L159.5 391.58 L160.5 390.32 L161.5 389.02 L162.5 387.73 L163.5 386.51 L164.5 385.38 L165.5 384.38 L166.5 383.6 L167.5 383.11 L168.5 382.99 L169.5 383.25 L170.5 383.84 L171.5 384.64 L172.5 385.57 L173.5 386.57 L174.5 387.58 L175.5 388.53 L176.5 389.34 L177.5 389.96 L178.5 390.38 L179.5 390.64 L180.5 390.82 L181.5 390.97 L182.5 391.12 L183.5 391.3 L184.5 391.48 L185.5 391.69 L186.5 391.91 L187.5 392.15 L188.5 392.41 L189.5 392.69 L190.5 392.98 L191.5 393.27 L192.5 393.56 L193.5 393.85 L194.5 394.15 L195.5 394.45 L196.5 394.74 L197.5 395.04 L198.5 395.32 L199.5 395.6 L200.5 395.85 L201.5 396.08 L202.5 396.28 L203.5 396.47 L204.5 396.63 L205.5 396.78 L206.5 396.92 L207.5 397.05 L208.5 397.18 L209.5 397.29 L210.5 397.39 L211.5 397.48 L212.5 397.55 L213.5 397.61 L214.5 397.66 L215.5 397.7 L216.5 397.73 L217.5 397.76 L218.5 397.78 L219.5 397.79 L220.5 397.8 L221.5 397.81 L222.5 397.81 L223.5 397.81 L224.5 397.81 L225.5 397.81 L226.5 397.8 L227.5 397.8 L228 397.8" fill="none" stroke="#2ebf6a" stroke-width="1.35" stroke-linejoin="round" stroke-linecap="round" />
<path d="M22.5 409.6 L23.5 409.6 L24.5 409.6 L25.5 409.6 L26.5 409.6 L27.5 409.6 L28.5 409.6 L29.5 409.6 L30.5 409.6 L31.5 409.6 L32.5 409.61 L33.5 409.61 L34.5 409.61 L35.5 409.61 L36.5 409.61 L37.5 409.61 L38.5 409.61 L39.5 409.61 L40.5 409.61 L41.5 409.61 L42.5 409.61 L43.5 409.61 L44.5 409.62 L45.5 409.62 L46.5 409.62 L47.5 409.62 L48.5 409.62 L49.5 409.62 L50.5 409.61 L51.5 409.61 L52.5 409.61 L53.5 409.61 L54.5 409.61 L55.5 409.61 L56.5 409.61 L57.5 409.61 L58.5 409.6 L59.5 409.6 L60.5 409.6 L61.5 409.6 L62.5 409.61 L63.5 409.62 L64.5 409.63 L65.5 409.64 L66.5 409.66 L67.5 409.67 L68.5 409.69 L69.5 409.71 L70.5 409.73 L71.5 409.75 L72.5 409.77 L73.5 409.78 L74.5 409.8 L75.5 409.81 L76.5 409.83 L77.5 409.83 L78.5 409.84 L79.5 409.84 L80.5 409.84 L81.5 409.83 L82.5 409.82 L83.5 409.81 L84.5 409.78 L85.5 409.76 L86.5 409.72 L87.5 409.68 L88.5 409.63 L89.5 409.57 L90.5 409.48 L91.5 409.35 L92.5 409.14 L93.5 408.81 L94.5 408.3 L95.5 407.61 L96.5 406.71 L97.5 405.59 L98.5 404.27 L99.5 402.81 L100.5 401.32 L101.5 399.89 L102.5 398.62 L103.5 397.55 L104.5 396.75 L105.5 396.3 L106.5 396.26 L107.5 396.6 L108.5 397.25 L109.5 398.09 L110.5 399.02 L111.5 399.98 L112.5 400.92 L113.5 401.79 L114.5 402.54 L115.5 403.17 L116.5 403.7 L117.5 404.16 L118.5 404.59 L119.5 405.01 L120.5 405.41 L121.5 405.82 L122.5 406.25 L123.5 406.69 L124.5 407.15 L125.5 407.6 L126.5 408.03 L127.5 408.42 L128.5 408.76 L129.5 409.02 L130.5 409.22 L131.5 409.36 L132.5 409.46 L133.5 409.52 L134.5 409.58 L135.5 409.63 L136.5 409.68 L137.5 409.74 L138.5 409.78 L139.5 409.83 L140.5 409.87 L141.5 409.9 L142.5 409.93 L143.5 409.96 L144.5 410 L145.5 410.03 L146.5 410.08 L147.5 410.13 L148.5 410.18 L149.5 410.23 L150.5 410.26 L151.5 410.26 L152.5 410.23 L153.5 410.14 L154.5 409.99 L155.5 409.75 L156.5 409.39 L157.5 408.87 L158.5 408.14 L159.5 407.15 L160.5 405.88 L161.5 404.33 L162.5 402.59 L163.5 400.79 L164.5 399.04 L165.5 397.43 L166.5 395.98 L167.5 394.74 L168.5 393.81 L169.5 393.3 L170.5 393.3 L171.5 393.81 L172.5 394.71 L173.5 395.85 L174.5 397.08 L175.5 398.32 L176.5 399.52 L177.5 400.66 L178.5 401.67 L179.5 402.52 L180.5 403.19 L181.5 403.73 L182.5 404.18 L183.5 404.6 L184.5 405.01 L185.5 405.41 L186.5 405.83 L187.5 406.27 L188.5 406.74 L189.5 407.22 L190.5 407.69 L191.5 408.14 L192.5 408.55 L193.5 408.93 L194.5 409.27 L195.5 409.57 L196.5 409.83 L197.5 410.06 L198.5 410.25 L199.5 410.41 L200.5 410.54 L201.5 410.65 L202.5 410.74 L203.5 410.81 L204.5 410.87 L205.5 410.92 L206.5 410.95 L207.5 410.97 L208.5 410.98 L209.5 410.99 L210.5 411 L211.5 411.01 L212.5 411.01 L213.5 411.02 L214.5 411.02 L215.5 411.02 L216.5 411.02 L217.5 411.02 L218.5 411.02 L219.5 411.02 L220.5 411.01 L221.5 411.01 L222.5 411.01 L223.5 411.01 L224.5 411 L225.5 411 L226.5 411 L227.5 411 L228 411" fill="none" stroke="#4646ff" stroke-width="1.35" stroke-linejoin="round" stroke-linecap="round" />
<path d="M22.5 423 L23.5 423 L24.5 423 L25.5 423 L26.5 423 L27.5 423 L28.5 423 L29.5 423 L30.5 423 L31.5 423 L32.5 423.01 L33.5 423.01 L34.5 423.01 L35.5 423.01 L36.5 423.01 L37.5 423.01 L38.5 423.01 L39.5 423.01 L40.5 423.01 L41.5 423.01 L42.5 423.01 L43.5 423.02 L44.5 423.02 L45.5 423.02 L46.5 423.02 L47.5 423.02 L48.5 423.02 L49.5 423.02 L50.5 423.02 L51.5 423.01 L52.5 423.01 L53.5 423.01 L54.5 423.01 L55.5 423.01 L56.5 423.01 L57.5 423.01 L58.5 423 L59.5 423 L60.5 423 L61.5 423.01 L62.5 423.01 L63.5 423.02 L64.5 423.04 L65.5 423.05 L66.5 423.07 L67.5 423.09 L68.5 423.12 L69.5 423.14 L70.5 423.16 L71.5 423.18 L72.5 423.21 L73.5 423.22 L74.5 423.24 L75.5 423.26 L76.5 423.27 L77.5 423.27 L78.5 423.28 L79.5 423.27 L80.5 423.26 L81.5 423.25 L82.5 423.23 L83.5 423.2 L84.5 423.16 L85.5 423.11 L86.5 423.06 L87.5 422.99 L88.5 422.9 L89.5 422.77 L90.5 422.56 L91.5 422.25 L92.5 421.82 L93.5 421.25 L94.5 420.56 L95.5 419.75 L96.5 418.8 L97.5 417.71 L98.5 416.54 L99.5 415.34 L100.5 414.2 L101.5 413.16 L102.5 412.24 L103.5 411.46 L104.5 410.86 L105.5 410.47 L106.5 410.34 L107.5 410.45 L108.5 410.76 L109.5 411.21 L110.5 411.73 L111.5 412.29 L112.5 412.86 L113.5 413.46 L114.5 414.07 L115.5 414.69 L116.5 415.3 L117.5 415.91 L118.5 416.52 L119.5 417.13 L120.5 417.72 L121.5 418.3 L122.5 418.88 L123.5 419.44 L124.5 419.98 L125.5 420.49 L126.5 420.94 L127.5 421.34 L128.5 421.66 L129.5 421.93 L130.5 422.15 L131.5 422.33 L132.5 422.48 L133.5 422.61 L134.5 422.73 L135.5 422.84 L136.5 422.94 L137.5 423.04 L138.5 423.13 L139.5 423.21 L140.5 423.28 L141.5 423.34 L142.5 423.39 L143.5 423.44 L144.5 423.49 L145.5 423.55 L146.5 423.61 L147.5 423.69 L148.5 423.75 L149.5 423.79 L150.5 423.79 L151.5 423.72 L152.5 423.56 L153.5 423.3 L154.5 422.9 L155.5 422.35 L156.5 421.64 L157.5 420.75 L158.5 419.66 L159.5 418.4 L160.5 417.01 L161.5 415.56 L162.5 414.14 L163.5 412.8 L164.5 411.58 L165.5 410.49 L166.5 409.54 L167.5 408.79 L168.5 408.3 L169.5 408.11 L170.5 408.25 L171.5 408.69 L172.5 409.33 L173.5 410.06 L174.5 410.8 L175.5 411.53 L176.5 412.24 L177.5 412.94 L178.5 413.64 L179.5 414.33 L180.5 415.02 L181.5 415.69 L182.5 416.36 L183.5 417.02 L184.5 417.68 L185.5 418.33 L186.5 418.98 L187.5 419.62 L188.5 420.22 L189.5 420.78 L190.5 421.27 L191.5 421.69 L192.5 422.04 L193.5 422.32 L194.5 422.56 L195.5 422.76 L196.5 422.94 L197.5 423.11 L198.5 423.26 L199.5 423.41 L200.5 423.54 L201.5 423.65 L202.5 423.76 L203.5 423.86 L204.5 423.95 L205.5 424.05 L206.5 424.14 L207.5 424.23 L208.5 424.33 L209.5 424.41 L210.5 424.5 L211.5 424.58 L212.5 424.65 L213.5 424.71 L214.5 424.76 L215.5 424.81 L216.5 424.85 L217.5 424.88 L218.5 424.9 L219.5 424.92 L220.5 424.93 L221.5 424.94 L222.5 424.95 L223.5 424.96 L224.5 424.97 L225.5 424.97 L226.5 424.98 L227.5 424.99 L228 424.99" fill="none" stroke="#ff3c3c" stroke-width="1.35" stroke-linejoin="round" stroke-linecap="round" />
<path d="M22.5 442.4 L23.5 442.4 L24.5 442.4 L25.5 442.4 L26.5 442.4 L27.5 442.41 L28.5 442.41 L29.5 442.41 L30.5 442.41 L31.5 442.41 L32.5 442.41 L33.5 442.41 L34.5 442.41 L35.5 442.41 L36.5 442.41 L37.5 442.41 L38.5 442.41 L39.5 442.41 L40.5 442.41 L41.5 442.41 L42.5 442.42 L43.5 442.43 L44.5 442.45 L45.5 442.47 L46.5 442.49 L47.5 442.5 L48.5 442.51 L49.5 442.51 L50.5 442.5 L51.5 442.48 L52.5 442.44 L53.5 442.39 L54.5 442.31 L55.5 442.21 L56.5 442.08 L57.5 441.91 L58.5 441.69 L59.5 441.44 L60.5 441.15 L61.5 440.83 L62.5 440.5 L63.5 440.14 L64.5 439.76 L65.5 439.37 L66.5 438.95 L67.5 438.51 L68.5 438.05 L69.5 437.58 L70.5 437.1 L71.5 436.64 L72.5 436.2 L73.5 435.79 L74.5 435.42 L75.5 435.09 L76.5 434.8 L77.5 434.54 L78.5 434.32 L79.5 434.12 L80.5 433.96 L81.5 433.83 L82.5 433.73 L83.5 433.67 L84.5 433.65 L85.5 433.68 L86.5 433.75 L87.5 433.86 L88.5 434 L89.5 434.16 L90.5 434.33 L91.5 434.51 L92.5 434.71 L93.5 434.91 L94.5 435.12 L95.5 435.34 L96.5 435.57 L97.5 435.81 L98.5 436.04 L99.5 436.28 L100.5 436.51 L101.5 436.74 L102.5 436.97 L103.5 437.2 L104.5 437.43 L105.5 437.66 L106.5 437.89 L107.5 438.12 L108.5 438.35 L109.5 438.58 L110.5 438.81 L111.5 439.04 L112.5 439.26 L113.5 439.49 L114.5 439.71 L115.5 439.92 L116.5 440.13 L117.5 440.32 L118.5 440.5 L119.5 440.65 L120.5 440.79 L121.5 440.89 L122.5 440.94 L123.5 440.94 L124.5 440.88 L125.5 440.76 L126.5 440.58 L127.5 440.35 L128.5 440.06 L129.5 439.71 L130.5 439.28 L131.5 438.78 L132.5 438.23 L133.5 437.62 L134.5 436.97 L135.5 436.3 L136.5 435.6 L137.5 434.87 L138.5 434.15 L139.5 433.45 L140.5 432.81 L141.5 432.24 L142.5 431.76 L143.5 431.34 L144.5 431 L145.5 430.75 L146.5 430.59 L147.5 430.53 L148.5 430.57 L149.5 430.71 L150.5 430.92 L151.5 431.18 L152.5 431.48 L153.5 431.81 L154.5 432.17 L155.5 432.56 L156.5 432.97 L157.5 433.38 L158.5 433.78 L159.5 434.15 L160.5 434.52 L161.5 434.86 L162.5 435.19 L163.5 435.52 L164.5 435.84 L165.5 436.15 L166.5 436.47 L167.5 436.78 L168.5 437.08 L169.5 437.38 L170.5 437.68 L171.5 437.97 L172.5 438.26 L173.5 438.54 L174.5 438.81 L175.5 439.09 L176.5 439.35 L177.5 439.61 L178.5 439.85 L179.5 440.07 L180.5 440.28 L181.5 440.46 L182.5 440.63 L183.5 440.77 L184.5 440.91 L185.5 441.03 L186.5 441.14 L187.5 441.25 L188.5 441.35 L189.5 441.45 L190.5 441.55 L191.5 441.64 L192.5 441.73 L193.5 441.81 L194.5 441.89 L195.5 441.96 L196.5 442.04 L197.5 442.11 L198.5 442.19 L199.5 442.27 L200.5 442.36 L201.5 442.46 L202.5 442.57 L203.5 442.69 L204.5 442.82 L205.5 442.94 L206.5 443.07 L207.5 443.2 L208.5 443.34 L209.5 443.47 L210.5 443.6 L211.5 443.73 L212.5 443.86 L213.5 443.99 L214.5 444.11 L215.5 444.23 L216.5 444.34 L217.5 444.44 L218.5 444.53 L219.5 444.61 L220.5 444.68 L221.5 444.76 L222.5 444.83 L223.5 444.9 L224.5 444.96 L225.5 445.03 L226.5 445.09 L227.5 445.14 L228 445.16" fill="none" stroke="#ffc62e" stroke-width="1.35" stroke-linejoin="round" stroke-linecap="round" />
<path d="M22.5 461 L23.5 461 L24.5 461 L25.5 461 L26.5 461 L27.5 461.01 L28.5 461.01 L29.5 461.01 L30.5 461.01 L31.5 461.01 L32.5 461.01 L33.5 461.01 L34.5 461.01 L35.5 461.01 L36.5 461.01 L37.5 461.01 L38.5 461.01 L39.5 461 L40.5 461 L41.5 461.01 L42.5 461.02 L43.5 461.03 L44.5 461.04 L45.5 461.06 L46.5 461.07 L47.5 461.08 L48.5 461.09 L49.5 461.09 L50.5 461.08 L51.5 461.06 L52.5 461.02 L53.5 460.97 L54.5 460.91 L55.5 460.81 L56.5 460.69 L57.5 460.54 L58.5 460.34 L59.5 460.11 L60.5 459.85 L61.5 459.56 L62.5 459.24 L63.5 458.91 L64.5 458.55 L65.5 458.17 L66.5 457.77 L67.5 457.33 L68.5 456.88 L69.5 456.41 L70.5 455.94 L71.5 455.47 L72.5 455.03 L73.5 454.61 L74.5 454.23 L75.5 453.88 L76.5 453.57 L77.5 453.3 L78.5 453.06 L79.5 452.85 L80.5 452.69 L81.5 452.57 L82.5 452.49 L83.5 452.46 L84.5 452.49 L85.5 452.56 L86.5 452.67 L87.5 452.81 L88.5 452.97 L89.5 453.14 L90.5 453.31 L91.5 453.48 L92.5 453.64 L93.5 453.81 L94.5 453.98 L95.5 454.15 L96.5 454.33 L97.5 454.52 L98.5 454.71 L99.5 454.91 L100.5 455.12 L101.5 455.33 L102.5 455.56 L103.5 455.79 L104.5 456.02 L105.5 456.25 L106.5 456.48 L107.5 456.7 L108.5 456.91 L109.5 457.12 L110.5 457.32 L111.5 457.52 L112.5 457.71 L113.5 457.9 L114.5 458.08 L115.5 458.26 L116.5 458.43 L117.5 458.58 L118.5 458.71 L119.5 458.82 L120.5 458.91 L121.5 458.95 L122.5 458.96 L123.5 458.92 L124.5 458.84 L125.5 458.71 L126.5 458.52 L127.5 458.25 L128.5 457.9 L129.5 457.48 L130.5 456.99 L131.5 456.45 L132.5 455.88 L133.5 455.27 L134.5 454.63 L135.5 453.96 L136.5 453.28 L137.5 452.6 L138.5 451.95 L139.5 451.36 L140.5 450.84 L141.5 450.39 L142.5 449.99 L143.5 449.66 L144.5 449.4 L145.5 449.23 L146.5 449.17 L147.5 449.22 L148.5 449.4 L149.5 449.67 L150.5 450.02 L151.5 450.42 L152.5 450.86 L153.5 451.34 L154.5 451.83 L155.5 452.34 L156.5 452.84 L157.5 453.31 L158.5 453.71 L159.5 454.05 L160.5 454.32 L161.5 454.52 L162.5 454.68 L163.5 454.82 L164.5 454.93 L165.5 455.04 L166.5 455.13 L167.5 455.22 L168.5 455.31 L169.5 455.43 L170.5 455.57 L171.5 455.76 L172.5 455.99 L173.5 456.26 L174.5 456.54 L175.5 456.84 L176.5 457.14 L177.5 457.45 L178.5 457.75 L179.5 458.06 L180.5 458.37 L181.5 458.67 L182.5 458.96 L183.5 459.22 L184.5 459.45 L185.5 459.64 L186.5 459.8 L187.5 459.93 L188.5 460.04 L189.5 460.13 L190.5 460.21 L191.5 460.29 L192.5 460.36 L193.5 460.44 L194.5 460.52 L195.5 460.59 L196.5 460.66 L197.5 460.74 L198.5 460.81 L199.5 460.88 L200.5 460.97 L201.5 461.05 L202.5 461.14 L203.5 461.24 L204.5 461.34 L205.5 461.44 L206.5 461.54 L207.5 461.65 L208.5 461.75 L209.5 461.85 L210.5 461.95 L211.5 462.05 L212.5 462.15 L213.5 462.25 L214.5 462.35 L215.5 462.45 L216.5 462.55 L217.5 462.65 L218.5 462.74 L219.5 462.83 L220.5 462.92 L221.5 463.01 L222.5 463.1 L223.5 463.19 L224.5 463.28 L225.5 463.37 L226.5 463.45 L227.5 463.52 L228 463.54" fill="none" stroke="#2ebf6a" stroke-width="1.35" stroke-linejoin="round" stroke-linecap="round" />
<path d="M22.5 477.6 L23.5 477.6 L24.5 477.6 L25.5 477.6 L26.5 477.6 L27.5 477.61 L28.5 477.61 L29.5 477.61 L30.5 477.61 L31.5 477.61 L32.5 477.61 L33.5 477.61 L34.5 477.61 L35.5 477.61 L36.5 477.61 L37.5 477.61 L38.5 477.61 L39.5 477.6 L40.5 477.6 L41.5 477.6 L42.5 477.61 L43.5 477.62 L44.5 477.63 L45.5 477.64 L46.5 477.65 L47.5 477.66 L48.5 477.66 L49.5 477.65 L50.5 477.64 L51.5 477.62 L52.5 477.59 L53.5 477.55 L54.5 477.49 L55.5 477.41 L56.5 477.31 L57.5 477.18 L58.5 477.02 L59.5 476.84 L60.5 476.62 L61.5 476.38 L62.5 476.11 L63.5 475.83 L64.5 475.52 L65.5 475.19 L66.5 474.82 L67.5 474.43 L68.5 474.01 L69.5 473.58 L70.5 473.16 L71.5 472.74 L72.5 472.36 L73.5 472.01 L74.5 471.7 L75.5 471.42 L76.5 471.18 L77.5 470.97 L78.5 470.79 L79.5 470.64 L80.5 470.54 L81.5 470.47 L82.5 470.45 L83.5 470.47 L84.5 470.53 L85.5 470.62 L86.5 470.73 L87.5 470.87 L88.5 471.02 L89.5 471.17 L90.5 471.32 L91.5 471.48 L92.5 471.64 L93.5 471.81 L94.5 471.98 L95.5 472.16 L96.5 472.34 L97.5 472.53 L98.5 472.72 L99.5 472.91 L100.5 473.1 L101.5 473.3 L102.5 473.5 L103.5 473.7 L104.5 473.9 L105.5 474.1 L106.5 474.3 L107.5 474.48 L108.5 474.67 L109.5 474.84 L110.5 475.02 L111.5 475.18 L112.5 475.35 L113.5 475.52 L114.5 475.68 L115.5 475.84 L116.5 475.99 L117.5 476.12 L118.5 476.23 L119.5 476.31 L120.5 476.35 L121.5 476.35 L122.5 476.28 L123.5 476.17 L124.5 475.99 L125.5 475.77 L126.5 475.48 L127.5 475.14 L128.5 474.75 L129.5 474.31 L130.5 473.84 L131.5 473.35 L132.5 472.84 L133.5 472.32 L134.5 471.79 L135.5 471.25 L136.5 470.71 L137.5 470.19 L138.5 469.71 L139.5 469.27 L140.5 468.88 L141.5 468.55 L142.5 468.26 L143.5 468.03 L144.5 467.85 L145.5 467.74 L146.5 467.71 L147.5 467.76 L148.5 467.88 L149.5 468.07 L150.5 468.3 L151.5 468.57 L152.5 468.86 L153.5 469.16 L154.5 469.47 L155.5 469.8 L156.5 470.13 L157.5 470.47 L158.5 470.8 L159.5 471.12 L160.5 471.43 L161.5 471.72 L162.5 471.99 L163.5 472.25 L164.5 472.5 L165.5 472.75 L166.5 472.98 L167.5 473.21 L168.5 473.44 L169.5 473.67 L170.5 473.89 L171.5 474.11 L172.5 474.33 L173.5 474.55 L174.5 474.76 L175.5 474.98 L176.5 475.18 L177.5 475.38 L178.5 475.57 L179.5 475.74 L180.5 475.9 L181.5 476.05 L182.5 476.19 L183.5 476.32 L184.5 476.43 L185.5 476.53 L186.5 476.63 L187.5 476.71 L188.5 476.8 L189.5 476.88 L190.5 476.96 L191.5 477.03 L192.5 477.1 L193.5 477.16 L194.5 477.22 L195.5 477.28 L196.5 477.33 L197.5 477.39 L198.5 477.44 L199.5 477.51 L200.5 477.57 L201.5 477.64 L202.5 477.72 L203.5 477.8 L204.5 477.89 L205.5 477.98 L206.5 478.07 L207.5 478.16 L208.5 478.25 L209.5 478.34 L210.5 478.43 L211.5 478.51 L212.5 478.6 L213.5 478.68 L214.5 478.76 L215.5 478.83 L216.5 478.9 L217.5 478.97 L218.5 479.04 L219.5 479.1 L220.5 479.16 L221.5 479.22 L222.5 479.28 L223.5 479.34 L224.5 479.39 L225.5 479.45 L226.5 479.5 L227.5 479.55 L228 479.56" fill="none" stroke="#4646ff" stroke-width="1.35" stroke-linejoin="round" stroke-linecap="round" />
<path d="M22.5 493 L23.5 493 L24.5 493 L25.5 493 L26.5 493 L27.5 493 L28.5 493.01 L29.5 493.01 L30.5 493.01 L31.5 493.01 L32.5 493.01 L33.5 493.01 L34.5 493.01 L35.5 493.01 L36.5 493.02 L37.5 493.02 L38.5 493.02 L39.5 493.01 L40.5 493.01 L41.5 493.01 L42.5 493.01 L43.5 493.01 L44.5 493 L45.5 493 L46.5 493.01 L47.5 493.01 L48.5 493.02 L49.5 493.04 L50.5 493.05 L51.5 493.07 L52.5 493.08 L53.5 493.09 L54.5 493.1 L55.5 493.11 L56.5 493.1 L57.5 493.1 L58.5 493.08 L59.5 493.05 L60.5 493.01 L61.5 492.96 L62.5 492.9 L63.5 492.8 L64.5 492.68 L65.5 492.51 L66.5 492.28 L67.5 491.99 L68.5 491.64 L69.5 491.23 L70.5 490.76 L71.5 490.21 L72.5 489.58 L73.5 488.89 L74.5 488.15 L75.5 487.4 L76.5 486.67 L77.5 485.99 L78.5 485.34 L79.5 484.74 L80.5 484.18 L81.5 483.67 L82.5 483.23 L83.5 482.89 L84.5 482.65 L85.5 482.54 L86.5 482.56 L87.5 482.69 L88.5 482.91 L89.5 483.19 L90.5 483.5 L91.5 483.83 L92.5 484.17 L93.5 484.51 L94.5 484.87 L95.5 485.24 L96.5 485.63 L97.5 486.02 L98.5 486.41 L99.5 486.81 L100.5 487.2 L101.5 487.61 L102.5 488.01 L103.5 488.42 L104.5 488.82 L105.5 489.21 L106.5 489.59 L107.5 489.95 L108.5 490.29 L109.5 490.62 L110.5 490.93 L111.5 491.24 L112.5 491.55 L113.5 491.86 L114.5 492.17 L115.5 492.47 L116.5 492.76 L117.5 493.02 L118.5 493.23 L119.5 493.39 L120.5 493.49 L121.5 493.52 L122.5 493.48 L123.5 493.38 L124.5 493.22 L125.5 492.99 L126.5 492.69 L127.5 492.33 L128.5 491.9 L129.5 491.42 L130.5 490.89 L131.5 490.3 L132.5 489.67 L133.5 488.97 L134.5 488.23 L135.5 487.45 L136.5 486.63 L137.5 485.8 L138.5 484.99 L139.5 484.19 L140.5 483.43 L141.5 482.73 L142.5 482.08 L143.5 481.49 L144.5 480.96 L145.5 480.5 L146.5 480.12 L147.5 479.82 L148.5 479.63 L149.5 479.56 L150.5 479.6 L151.5 479.76 L152.5 480 L153.5 480.3 L154.5 480.64 L155.5 481 L156.5 481.38 L157.5 481.77 L158.5 482.18 L159.5 482.59 L160.5 483.02 L161.5 483.45 L162.5 483.88 L163.5 484.33 L164.5 484.78 L165.5 485.25 L166.5 485.72 L167.5 486.2 L168.5 486.68 L169.5 487.16 L170.5 487.64 L171.5 488.11 L172.5 488.56 L173.5 489.01 L174.5 489.45 L175.5 489.88 L176.5 490.3 L177.5 490.71 L178.5 491.1 L179.5 491.46 L180.5 491.8 L181.5 492.1 L182.5 492.37 L183.5 492.61 L184.5 492.81 L185.5 493 L186.5 493.16 L187.5 493.31 L188.5 493.45 L189.5 493.56 L190.5 493.67 L191.5 493.75 L192.5 493.83 L193.5 493.9 L194.5 493.97 L195.5 494.03 L196.5 494.09 L197.5 494.15 L198.5 494.21 L199.5 494.27 L200.5 494.33 L201.5 494.38 L202.5 494.44 L203.5 494.49 L204.5 494.54 L205.5 494.59 L206.5 494.64 L207.5 494.69 L208.5 494.73 L209.5 494.78 L210.5 494.82 L211.5 494.86 L212.5 494.9 L213.5 494.94 L214.5 494.97 L215.5 495.01 L216.5 495.04 L217.5 495.07 L218.5 495.1 L219.5 495.14 L220.5 495.17 L221.5 495.2 L222.5 495.23 L223.5 495.26 L224.5 495.29 L225.5 495.32 L226.5 495.35 L227.5 495.37 L228 495.38" fill="none" stroke="#ff3c3c" stroke-width="1.35" stroke-linejoin="round" stroke-linecap="round" />
<rect x="22.0" y="282.3" width="206.5" height="213.3" fill="none" stroke="#7f7f7f" stroke-width="1"/>
<path d="M22 495.6 v2.2 M34.15 495.6 v2.2 M46.29 495.6 v3.2 M58.44 495.6 v2.2 M70.59 495.6 v2.2 M82.74 495.6 v2.2 M94.88 495.6 v2.2 M107.03 495.6 v3.2 M119.18 495.6 v2.2 M131.32 495.6 v2.2 M143.47 495.6 v2.2 M155.62 495.6 v2.2 M167.76 495.6 v3.2 M179.91 495.6 v2.2 M192.06 495.6 v2.2 M204.21 495.6 v2.2 M216.35 495.6 v2.2 M228.5 495.6 v3.2 " stroke="#7f7f7f" stroke-width="0.8" fill="none"/>
<text x="46.29" y="510.6" font-size="8" text-anchor="middle" font-weight="normal" fill="#222" stroke="#222" stroke-width="0.25" >171</text>
<text x="107.03" y="510.6" font-size="8" text-anchor="middle" font-weight="normal" fill="#222" stroke="#222" stroke-width="0.25" >166</text>
<text x="167.76" y="510.6" font-size="8" text-anchor="middle" font-weight="normal" fill="#222" stroke="#222" stroke-width="0.25" >161</text>
<text x="228.5" y="510.6" font-size="8" text-anchor="middle" font-weight="normal" fill="#222" stroke="#222" stroke-width="0.25" >156</text>
<text x="122.2" y="527.9" font-size="11.1" text-anchor="middle" font-weight="bold" fill="#111" stroke="#111" stroke-width="0.25" >Binding Energy [eV]</text>
<text x="0" y="0" font-size="11.9" text-anchor="middle" font-weight="bold" fill="#111" stroke="#111" stroke-width="0.25" transform="translate(12.8 391) rotate(-90)" >Counts [s]</text>
<text x="23.6" y="308" font-size="8.2" text-anchor="start" font-weight="normal" fill="#1a1a1a" stroke="#1a1a1a" stroke-width="0.25" >BiOI_1M</text>
<text x="23.6" y="327" font-size="8.2" text-anchor="start" font-weight="normal" fill="#1a1a1a" stroke="#1a1a1a" stroke-width="0.25" >BiOI_0.5M</text>
<text x="23.6" y="345.6" font-size="8.2" text-anchor="start" font-weight="normal" fill="#1a1a1a" stroke="#1a1a1a" stroke-width="0.25" >BiOI_0.1M</text>
<text x="23.6" y="363.6" font-size="8.2" text-anchor="start" font-weight="normal" fill="#1a1a1a" stroke="#1a1a1a" stroke-width="0.25" >BiOI_0M</text>
<text x="23.6" y="378" font-size="8.2" text-anchor="start" font-weight="normal" fill="#1a1a1a" stroke="#1a1a1a" stroke-width="0.25" >BiOBr_1M</text>
<text x="23.6" y="393" font-size="8.2" text-anchor="start" font-weight="normal" fill="#1a1a1a" stroke="#1a1a1a" stroke-width="0.25" >BiOBr_0.5M</text>
<text x="23.6" y="406" font-size="8.2" text-anchor="start" font-weight="normal" fill="#1a1a1a" stroke="#1a1a1a" stroke-width="0.25" >BiOBr_0.1M</text>
<text x="23.6" y="420" font-size="8.2" text-anchor="start" font-weight="normal" fill="#1a1a1a" stroke="#1a1a1a" stroke-width="0.25" >BiOBr_0M</text>
<text x="23.6" y="437.6" font-size="8.2" text-anchor="start" font-weight="normal" fill="#1a1a1a" stroke="#1a1a1a" stroke-width="0.25" >BiOCl_1M</text>
<text x="23.6" y="457" font-size="8.2" text-anchor="start" font-weight="normal" fill="#1a1a1a" stroke="#1a1a1a" stroke-width="0.25" >BiOCl_0.5M</text>
<text x="23.6" y="473.6" font-size="8.2" text-anchor="start" font-weight="normal" fill="#1a1a1a" stroke="#1a1a1a" stroke-width="0.25" >BiOCl_0.1M</text>
<text x="23.6" y="489" font-size="8.2" text-anchor="start" font-weight="normal" fill="#1a1a1a" stroke="#1a1a1a" stroke-width="0.25" >BiOCl_0M</text>
<text x="78.4" y="301.6" font-size="9.2" fill="#1a1a1a">Bi 4f<tspan font-size="5.2" dy="1.2">5/2</tspan></text>
<text x="144.4" y="301.6" font-size="9.2" fill="#1a1a1a">Bi 4f<tspan font-size="5.2" dy="1.2">7/2</tspan></text>
<text x="197.4" y="298" font-size="11.8" text-anchor="start" font-weight="bold" fill="#111" stroke="#111" stroke-width="0.25" >Bi 4f</text>
</g>
<g id="panel-b">
<line x1="311" y1="190.6" x2="546.78" y2="190.6" stroke="#dcdcdc" stroke-width="0.8"/>
<text x="303.4" y="193.6" font-size="9" text-anchor="end" font-weight="normal" fill="#222" stroke="#222" stroke-width="0.25" >0</text>
<line x1="311" y1="164.88" x2="546.78" y2="164.88" stroke="#dcdcdc" stroke-width="0.8"/>
<text x="303.4" y="167.88" font-size="9" text-anchor="end" font-weight="normal" fill="#222" stroke="#222" stroke-width="0.25" >20</text>
<line x1="311" y1="139.16" x2="546.78" y2="139.16" stroke="#dcdcdc" stroke-width="0.8"/>
<text x="303.4" y="142.16" font-size="9" text-anchor="end" font-weight="normal" fill="#222" stroke="#222" stroke-width="0.25" >40</text>
<line x1="311" y1="113.44" x2="546.78" y2="113.44" stroke="#dcdcdc" stroke-width="0.8"/>
<text x="303.4" y="116.44" font-size="9" text-anchor="end" font-weight="normal" fill="#222" stroke="#222" stroke-width="0.25" >60</text>
<line x1="311" y1="87.72" x2="546.78" y2="87.72" stroke="#dcdcdc" stroke-width="0.8"/>
<text x="303.4" y="90.72" font-size="9" text-anchor="end" font-weight="normal" fill="#222" stroke="#222" stroke-width="0.25" >80</text>
<line x1="311" y1="62" x2="546.78" y2="62" stroke="#dcdcdc" stroke-width="0.8"/>
<text x="303.4" y="65" font-size="9" text-anchor="end" font-weight="normal" fill="#222" stroke="#222" stroke-width="0.25" >100</text>
<rect x="313.85" y="62" width="13.0" height="41.15" fill="#a9fb4f"/>
<rect x="313.85" y="103.15" width="13.0" height="47.97" fill="#ff3300"/>
<rect x="313.85" y="151.12" width="13.0" height="39.48" fill="#e066ff"/>
<text x="0" y="0" font-size="8.6" text-anchor="end" font-weight="normal" fill="#1a1a1a" stroke="#1a1a1a" stroke-width="0.25" transform="translate(322.65 203.5) rotate(-45)" >BiOCl_0M</text>
<rect x="333.54" y="62" width="13.0" height="37.55" fill="#a9fb4f"/>
<rect x="333.54" y="99.55" width="13.0" height="47.45" fill="#ff3300"/>
<rect x="333.54" y="147" width="13.0" height="43.6" fill="#e066ff"/>
<text x="0" y="0" font-size="8.6" text-anchor="end" font-weight="normal" fill="#1a1a1a" stroke="#1a1a1a" stroke-width="0.25" transform="translate(342.34 203.5) rotate(-45)" >BiOCl_0.1M</text>
<rect x="353.23" y="62" width="13.0" height="34.59" fill="#a9fb4f"/>
<rect x="353.23" y="96.59" width="13.0" height="46.3" fill="#ff3300"/>
<rect x="353.23" y="142.89" width="13.0" height="47.71" fill="#e066ff"/>
<text x="0" y="0" font-size="8.6" text-anchor="end" font-weight="normal" fill="#1a1a1a" stroke="#1a1a1a" stroke-width="0.25" transform="translate(362.03 203.5) rotate(-45)" >BiOCl_0.5M</text>
<rect x="372.92" y="62" width="13.0" height="35.49" fill="#a9fb4f"/>
<rect x="372.92" y="97.49" width="13.0" height="47.2" fill="#ff3300"/>
<rect x="372.92" y="144.69" width="13.0" height="45.91" fill="#e066ff"/>
<text x="0" y="0" font-size="8.6" text-anchor="end" font-weight="normal" fill="#1a1a1a" stroke="#1a1a1a" stroke-width="0.25" transform="translate(381.72 203.5) rotate(-45)" >BiOCl_1M</text>
<rect x="392.61" y="62" width="13.0" height="30.48" fill="#a9fb4f"/>
<rect x="392.61" y="92.48" width="13.0" height="51.31" fill="#ff3300"/>
<rect x="392.61" y="143.79" width="13.0" height="46.81" fill="#e066ff"/>
<text x="0" y="0" font-size="8.6" text-anchor="end" font-weight="normal" fill="#1a1a1a" stroke="#1a1a1a" stroke-width="0.25" transform="translate(401.41 203.5) rotate(-45)" >BiOBr_0M</text>
<rect x="412.3" y="62" width="13.0" height="29.06" fill="#a9fb4f"/>
<rect x="412.3" y="91.06" width="13.0" height="56.97" fill="#ff3300"/>
<rect x="412.3" y="148.03" width="13.0" height="42.57" fill="#e066ff"/>
<text x="0" y="0" font-size="8.6" text-anchor="end" font-weight="normal" fill="#1a1a1a" stroke="#1a1a1a" stroke-width="0.25" transform="translate(421.1 203.5) rotate(-45)" >BiOBr_0.1M</text>
<rect x="431.99" y="62" width="13.0" height="28.03" fill="#a9fb4f"/>
<rect x="431.99" y="90.03" width="13.0" height="61.47" fill="#ff3300"/>
<rect x="431.99" y="151.51" width="13.0" height="39.09" fill="#e066ff"/>
<text x="0" y="0" font-size="8.6" text-anchor="end" font-weight="normal" fill="#1a1a1a" stroke="#1a1a1a" stroke-width="0.25" transform="translate(440.79 203.5) rotate(-45)" >BiOBr_0.5M</text>
<rect x="451.68" y="62" width="13.0" height="28.55" fill="#a9fb4f"/>
<rect x="451.68" y="90.55" width="13.0" height="59.41" fill="#ff3300"/>
<rect x="451.68" y="149.96" width="13.0" height="40.64" fill="#e066ff"/>
<text x="0" y="0" font-size="8.6" text-anchor="end" font-weight="normal" fill="#1a1a1a" stroke="#1a1a1a" stroke-width="0.25" transform="translate(460.48 203.5) rotate(-45)" >BiOBr_1M</text>
<rect x="471.37" y="62" width="13.0" height="27.01" fill="#a9fb4f"/>
<rect x="471.37" y="89.01" width="13.0" height="57.87" fill="#ff3300"/>
<rect x="471.37" y="146.88" width="13.0" height="43.72" fill="#e066ff"/>
<text x="0" y="0" font-size="8.6" text-anchor="end" font-weight="normal" fill="#1a1a1a" stroke="#1a1a1a" stroke-width="0.25" transform="translate(480.17 203.5) rotate(-45)" >BiOI_0M</text>
<rect x="491.06" y="62" width="13.0" height="32.02" fill="#a9fb4f"/>
<rect x="491.06" y="94.02" width="13.0" height="51.83" fill="#ff3300"/>
<rect x="491.06" y="145.85" width="13.0" height="44.75" fill="#e066ff"/>
<text x="0" y="0" font-size="8.6" text-anchor="end" font-weight="normal" fill="#1a1a1a" stroke="#1a1a1a" stroke-width="0.25" transform="translate(499.86 203.5) rotate(-45)" >BiOI_0.1M</text>
<rect x="510.75" y="62" width="13.0" height="21.99" fill="#a9fb4f"/>
<rect x="510.75" y="83.99" width="13.0" height="72.02" fill="#ff3300"/>
<rect x="510.75" y="156.01" width="13.0" height="34.59" fill="#e066ff"/>
<text x="0" y="0" font-size="8.6" text-anchor="end" font-weight="normal" fill="#1a1a1a" stroke="#1a1a1a" stroke-width="0.25" transform="translate(519.54 203.5) rotate(-45)" >BiOI_0.5M</text>
<rect x="530.43" y="62" width="13.0" height="16.98" fill="#a9fb4f"/>
<rect x="530.43" y="78.98" width="13.0" height="82.05" fill="#ff3300"/>
<rect x="530.43" y="161.02" width="13.0" height="29.58" fill="#e066ff"/>
<text x="0" y="0" font-size="8.6" text-anchor="end" font-weight="normal" fill="#1a1a1a" stroke="#1a1a1a" stroke-width="0.25" transform="translate(539.23 203.5) rotate(-45)" >BiOI_1M</text>
<rect x="315.4" y="50.7" width="4.3" height="4.3" fill="#a9fb4f"/>
<text x="322.9" y="55.7" font-size="10" text-anchor="start" font-weight="normal" fill="#111" stroke="#111" stroke-width="0.25" >X cont, (at, %)</text>
<rect x="387.9" y="50.7" width="4.3" height="4.3" fill="#ff3300"/>
<text x="394.9" y="55.7" font-size="10" text-anchor="start" font-weight="normal" fill="#111" stroke="#111" stroke-width="0.25" >O cont, (at, %)</text>
<rect x="461.6" y="50.7" width="4.3" height="4.3" fill="#e066ff"/>
<text x="468.8" y="55.7" font-size="10" text-anchor="start" font-weight="normal" fill="#111" stroke="#111" stroke-width="0.25" >Bi cont, (at,&#160; %)</text>
</g>
<g id="panel-d">
<line x1="330.05" y1="457.6" x2="539.99" y2="457.6" stroke="#ebebeb" stroke-width="0.8"/>
<text x="323" y="460.3" font-size="7.6" text-anchor="end" font-weight="normal" fill="#555" stroke="#555" stroke-width="0.25" >0</text>
<line x1="330.05" y1="432.78" x2="539.99" y2="432.78" stroke="#ebebeb" stroke-width="0.8"/>
<text x="323" y="435.48" font-size="7.6" text-anchor="end" font-weight="normal" fill="#555" stroke="#555" stroke-width="0.25" >20</text>
<line x1="330.05" y1="407.96" x2="539.99" y2="407.96" stroke="#ebebeb" stroke-width="0.8"/>
<text x="323" y="410.66" font-size="7.6" text-anchor="end" font-weight="normal" fill="#555" stroke="#555" stroke-width="0.25" >40</text>
<line x1="330.05" y1="383.14" x2="539.99" y2="383.14" stroke="#ebebeb" stroke-width="0.8"/>
<text x="323" y="385.84" font-size="7.6" text-anchor="end" font-weight="normal" fill="#555" stroke="#555" stroke-width="0.25" >60</text>
<line x1="330.05" y1="358.32" x2="539.99" y2="358.32" stroke="#ebebeb" stroke-width="0.8"/>
<text x="323" y="361.02" font-size="7.6" text-anchor="end" font-weight="normal" fill="#555" stroke="#555" stroke-width="0.25" >80</text>
<line x1="330.05" y1="333.5" x2="539.99" y2="333.5" stroke="#ebebeb" stroke-width="0.8"/>
<text x="323" y="336.2" font-size="7.6" text-anchor="end" font-weight="normal" fill="#555" stroke="#555" stroke-width="0.25" >100</text>
<rect x="332.69" y="333.5" width="11.1" height="60.06" fill="#0fb0f2"/>
<rect x="332.69" y="393.56" width="11.1" height="64.04" fill="#1a6fc4"/>
<text x="0" y="0" font-size="7.4" text-anchor="end" font-weight="normal" fill="#333" stroke="#333" stroke-width="0.25" transform="translate(339.94 468.3) rotate(-45)" >BiOCl_0M</text>
<rect x="350.06" y="333.5" width="11.1" height="22.96" fill="#0cab4c"/>
<rect x="350.06" y="356.46" width="11.1" height="51.13" fill="#0fb0f2"/>
<rect x="350.06" y="407.59" width="11.1" height="50.01" fill="#1a6fc4"/>
<text x="0" y="0" font-size="7.4" text-anchor="end" font-weight="normal" fill="#333" stroke="#333" stroke-width="0.25" transform="translate(357.31 468.3) rotate(-45)" >BiOCl_0.1M</text>
<rect x="367.43" y="333.5" width="11.1" height="23.58" fill="#0cab4c"/>
<rect x="367.43" y="357.08" width="11.1" height="49.52" fill="#0fb0f2"/>
<rect x="367.43" y="406.59" width="11.1" height="51.01" fill="#1a6fc4"/>
<text x="0" y="0" font-size="7.4" text-anchor="end" font-weight="normal" fill="#333" stroke="#333" stroke-width="0.25" transform="translate(374.68 468.3) rotate(-45)" >BiOCl_0.5M</text>
<rect x="384.8" y="333.5" width="11.1" height="23.58" fill="#0cab4c"/>
<rect x="384.8" y="357.08" width="11.1" height="50.51" fill="#0fb0f2"/>
<rect x="384.8" y="407.59" width="11.1" height="50.01" fill="#1a6fc4"/>
<text x="0" y="0" font-size="7.4" text-anchor="end" font-weight="normal" fill="#333" stroke="#333" stroke-width="0.25" transform="translate(392.05 468.3) rotate(-45)" >BiOCl_1M</text>
<rect x="402.17" y="333.5" width="11.1" height="73.09" fill="#0fb0f2"/>
<rect x="402.17" y="406.59" width="11.1" height="51.01" fill="#1a6fc4"/>
<text x="0" y="0" font-size="7.4" text-anchor="end" font-weight="normal" fill="#333" stroke="#333" stroke-width="0.25" transform="translate(409.42 468.3) rotate(-45)" >BiOBr_0M</text>
<rect x="419.54" y="333.5" width="11.1" height="6.95" fill="#0cab4c"/>
<rect x="419.54" y="340.45" width="11.1" height="57.09" fill="#0fb0f2"/>
<rect x="419.54" y="397.54" width="11.1" height="60.06" fill="#1a6fc4"/>
<text x="0" y="0" font-size="7.4" text-anchor="end" font-weight="normal" fill="#333" stroke="#333" stroke-width="0.25" transform="translate(426.79 468.3) rotate(-45)" >BiOBr_0.1M</text>
<rect x="436.91" y="333.5" width="11.1" height="6.95" fill="#0cab4c"/>
<rect x="436.91" y="340.45" width="11.1" height="54.6" fill="#0fb0f2"/>
<rect x="436.91" y="395.05" width="11.1" height="62.55" fill="#1a6fc4"/>
<text x="0" y="0" font-size="7.4" text-anchor="end" font-weight="normal" fill="#333" stroke="#333" stroke-width="0.25" transform="translate(444.16 468.3) rotate(-45)" >BiOBr_0.5M</text>
<rect x="454.28" y="333.5" width="11.1" height="6.45" fill="#0cab4c"/>
<rect x="454.28" y="339.95" width="11.1" height="89.1" fill="#0fb0f2"/>
<rect x="454.28" y="429.06" width="11.1" height="28.54" fill="#1a6fc4"/>
<text x="0" y="0" font-size="7.4" text-anchor="end" font-weight="normal" fill="#333" stroke="#333" stroke-width="0.25" transform="translate(461.53 468.3) rotate(-45)" >BiOBr_1M</text>
<rect x="471.65" y="333.5" width="11.1" height="46.04" fill="#0cab4c"/>
<rect x="471.65" y="379.54" width="11.1" height="63.04" fill="#0fb0f2"/>
<rect x="471.65" y="442.58" width="11.1" height="15.02" fill="#1a6fc4"/>
<text x="0" y="0" font-size="7.4" text-anchor="end" font-weight="normal" fill="#333" stroke="#333" stroke-width="0.25" transform="translate(478.9 468.3) rotate(-45)" >BiOI_0M</text>
<rect x="489.02" y="333.5" width="11.1" height="21.59" fill="#ffc000"/>
<rect x="489.02" y="355.09" width="11.1" height="38.97" fill="#0cab4c"/>
<rect x="489.02" y="394.06" width="11.1" height="51.01" fill="#0fb0f2"/>
<rect x="489.02" y="445.07" width="11.1" height="12.53" fill="#1a6fc4"/>
<text x="0" y="0" font-size="7.4" text-anchor="end" font-weight="normal" fill="#333" stroke="#333" stroke-width="0.25" transform="translate(496.27 468.3) rotate(-45)" >BiOI_0.1M</text>
<rect x="506.39" y="333.5" width="11.1" height="32.02" fill="#ffc000"/>
<rect x="506.39" y="365.52" width="11.1" height="44.06" fill="#0cab4c"/>
<rect x="506.39" y="409.57" width="11.1" height="36.98" fill="#0fb0f2"/>
<rect x="506.39" y="446.56" width="11.1" height="11.04" fill="#1a6fc4"/>
<text x="0" y="0" font-size="7.4" text-anchor="end" font-weight="normal" fill="#333" stroke="#333" stroke-width="0.25" transform="translate(513.64 468.3) rotate(-45)" >BiOI_0.5M</text>
<rect x="523.76" y="333.5" width="11.1" height="37.97" fill="#ffc000"/>
<rect x="523.76" y="371.47" width="11.1" height="40.95" fill="#0cab4c"/>
<rect x="523.76" y="412.43" width="11.1" height="35.24" fill="#0fb0f2"/>
<rect x="523.76" y="447.67" width="11.1" height="9.93" fill="#1a6fc4"/>
<text x="0" y="0" font-size="7.4" text-anchor="end" font-weight="normal" fill="#333" stroke="#333" stroke-width="0.25" transform="translate(531.01 468.3) rotate(-45)" >BiOI_1M</text>
<rect x="349.8" y="319.4" width="5.6" height="5.8" fill="#ffc000"/>
<text x="358.2" y="325.6" font-size="11" fill="#222" stroke="#222" stroke-width="0.25">Bi<tspan font-size="7.3" dy="-3.1" stroke-width="0.08" fill="#2a2a2a">5+</tspan></text>
<rect x="390.6" y="319.4" width="5.6" height="5.8" fill="#0cab4c"/>
<text x="399" y="325.6" font-size="11" fill="#222" stroke="#222" stroke-width="0.25">Bi<tspan font-size="7.3" dy="-3.1" stroke-width="0.08" fill="#2a2a2a">4+</tspan></text>
<rect x="431.6" y="319.4" width="5.6" height="5.8" fill="#0fb0f2"/>
<text x="439.9" y="325.6" font-size="11" fill="#222" stroke="#222" stroke-width="0.25">Bi<tspan font-size="7.3" dy="-3.1" stroke-width="0.08" fill="#2a2a2a">3+</tspan></text>
<rect x="472.2" y="319.4" width="5.6" height="5.8" fill="#1a6fc4"/>
<text x="480.6" y="325.6" font-size="11" fill="#222" stroke="#222" stroke-width="0.25">Bi<tspan font-size="7.3" dy="-3.1" stroke-width="0.08" fill="#2a2a2a">(3&#8722;x)+</tspan></text>
</g>
</svg>
</body></html>
